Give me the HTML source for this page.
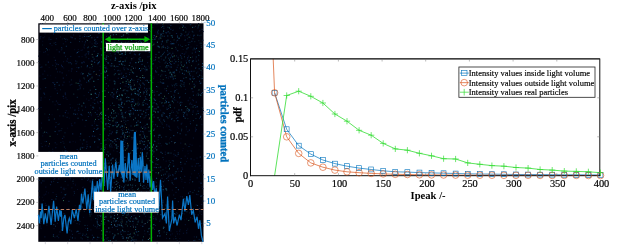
<!DOCTYPE html>
<html><head><meta charset="utf-8"><title>figure</title>
<style>html,body{margin:0;padding:0;background:#fff}svg{display:block;font-family:'Liberation Serif','DejaVu Serif',serif}</style></head>
<body><svg width="617" height="247" viewBox="0 0 617 247">
<rect width="617" height="247" fill="#fff"/>
<rect x="38.3" y="23.3" width="165.2" height="218.5" fill="#00000a"/>
<path d="M91.5 56.1h1.0M65.0 97.3h1.0M123.4 100.7h1.0M117.1 165.5h1.0M41.8 197.3h1.0M61.6 158.1h1.0M50.2 75.7h1.0M153.4 42.8h1.0M108.2 39.1h1.0M45.4 177.8h1.0M87.6 160.4h1.0M100.2 121.6h1.0M139.7 163.2h1.0M114.7 124.8h1.0M185.9 129.1h1.0M161.7 206.0h1.0M58.0 163.3h1.0M61.2 65.2h1.0M198.1 77.4h1.0M52.3 192.4h1.0M154.1 90.2h1.0M118.0 221.5h1.0M189.9 35.1h1.0M51.6 114.8h1.0M97.8 193.6h1.0M64.7 116.2h1.0M137.4 192.0h1.0M44.5 97.3h1.0M171.6 110.5h1.0M66.0 194.2h1.0M79.2 220.0h1.0M47.9 192.9h1.0M115.9 138.8h1.0M131.2 60.6h1.0M199.0 175.9h1.0M61.1 163.4h1.0M78.8 67.5h1.0M124.4 86.1h1.0M198.6 181.9h1.0M72.2 107.8h1.0M114.3 59.1h1.0M191.0 209.3h1.0M142.4 26.6h1.0M160.3 118.8h1.0M107.2 232.4h1.0M143.0 161.8h1.0M116.5 113.1h1.0M108.5 25.3h1.0M148.4 217.1h1.0M181.3 181.3h1.0M123.7 27.8h1.0M47.5 54.8h1.0M115.2 222.0h1.0M190.5 107.1h1.0M90.6 219.9h1.0M155.3 66.1h1.0M125.5 140.3h1.0M55.2 77.8h1.0M171.3 215.8h1.0M141.6 198.8h1.0M175.5 100.4h1.0M152.0 185.8h1.0M189.1 109.9h1.0M132.7 112.8h1.0M64.1 188.6h1.0M173.6 156.8h1.0M69.8 159.1h1.0M138.3 69.6h1.0M91.1 167.6h1.0M70.0 179.8h1.0M202.7 110.5h1.0M155.4 32.1h1.0M148.5 148.5h1.0M182.2 150.7h1.0M56.5 90.6h1.0M145.7 40.3h1.0M184.7 37.0h1.0M180.5 138.8h1.0M74.9 184.3h1.0M74.7 205.6h1.0M180.3 143.2h1.0M77.2 104.4h1.0M57.0 27.9h1.0M120.8 213.4h1.0M188.7 219.8h1.0M189.7 150.3h1.0M201.0 73.0h1.0M73.2 195.2h1.0M170.6 56.4h1.0M168.5 173.4h1.0M53.3 161.8h1.0M48.7 67.5h1.0M119.9 219.5h1.0M103.7 52.8h1.0M93.3 136.1h1.0M47.8 117.7h1.0M114.9 67.2h1.0M151.1 57.0h1.0M75.0 142.1h1.0M136.2 194.0h1.0M50.3 96.7h1.0M120.1 192.9h1.0M161.3 152.5h1.0M185.2 67.0h1.0M168.7 126.2h1.0M65.5 188.7h1.0M189.5 180.6h1.0M201.3 89.9h1.0M187.7 153.7h1.0M162.8 45.9h1.0M50.2 29.8h1.0M39.4 39.6h1.0M189.0 182.8h1.0M175.9 179.3h1.0M178.0 117.1h1.0M168.9 139.1h1.0M79.2 79.3h1.0M85.2 106.2h1.0M48.1 117.3h1.0M144.1 172.8h1.0M164.9 75.2h1.0M46.8 222.4h1.0M67.1 128.2h1.0M157.6 82.6h1.0M42.2 41.3h1.0M123.8 54.8h1.0M146.7 35.6h1.0M172.6 163.5h1.0M184.1 219.9h1.0M72.6 141.5h1.0M114.2 147.2h1.0M74.9 185.4h1.0M119.1 187.0h1.0M181.1 102.0h1.0M118.6 23.7h1.0M140.2 57.4h1.0M192.7 105.4h1.0M58.4 234.7h1.0M128.9 224.0h1.0M198.9 31.6h1.0M79.9 73.9h1.0M122.4 55.4h1.0" stroke="#040a22" stroke-width="1.0" fill="none"/>
<path d="M173.3 43.8h1.0M127.2 147.6h1.0M54.3 178.3h1.0M192.9 100.7h1.0M93.8 128.4h1.0M146.4 99.6h1.0M167.2 46.4h1.0M91.8 235.2h1.0M92.8 159.1h1.0M40.8 182.9h1.0M38.8 197.0h1.0M99.5 108.8h1.0M171.8 160.6h1.0M120.6 200.0h1.0M132.7 101.7h1.0M54.6 88.7h1.0M102.1 72.0h1.0M98.0 96.2h1.0M87.2 180.4h1.0M76.8 114.0h1.0M78.6 56.7h1.0M57.9 64.6h1.0M147.5 56.9h1.0M132.5 225.2h1.0M62.3 85.0h1.0M42.6 37.8h1.0M81.8 238.9h1.0M69.9 107.9h1.0M168.0 108.5h1.0M71.1 231.1h1.0M88.1 116.5h1.0M59.2 152.6h1.0M110.4 191.7h1.0M82.3 187.6h1.0M177.4 168.7h1.0M127.2 179.5h1.0M70.7 174.1h1.0M109.8 115.3h1.0M139.7 159.8h1.0M41.7 146.6h1.0M40.6 107.6h1.0M40.2 26.5h1.0M102.2 91.3h1.0M195.7 205.1h1.0M100.2 172.4h1.0M81.5 115.3h1.0M85.7 53.9h1.0M133.3 101.4h1.0M193.9 190.3h1.0M193.0 36.2h1.0M111.0 133.8h1.0M44.3 176.2h1.0M96.9 226.2h1.0M195.1 131.0h1.0M152.4 153.3h1.0M176.4 156.1h1.0M181.5 24.2h1.0M120.2 232.9h1.0M107.0 193.9h1.0M173.4 95.2h1.0M194.1 170.6h1.0M106.1 36.4h1.0M40.1 23.9h1.0M181.5 218.3h1.0M78.2 108.2h1.0M86.2 82.3h1.0M152.5 109.0h1.0M149.5 68.1h1.0M183.7 54.2h1.0M129.4 72.6h1.0M159.2 221.2h1.0M113.9 172.6h1.0M54.7 142.8h1.0M76.0 231.8h1.0M159.0 233.0h1.0M141.0 49.9h1.0M49.6 32.7h1.0M147.4 42.2h1.0M158.4 61.3h1.0M101.7 149.3h1.0M53.1 207.9h1.0M191.6 166.2h1.0M67.9 224.1h1.0M182.1 196.9h1.0M89.2 79.5h1.0M146.4 69.1h1.0M114.2 30.6h1.0M63.5 82.2h1.0M91.6 76.8h1.0M140.9 47.2h1.0M160.8 204.5h1.0M77.8 151.2h1.0M120.4 231.4h1.0M125.5 73.4h1.0M84.6 235.3h1.0M166.6 67.7h1.0M113.4 169.3h1.0M73.1 34.9h1.0M192.5 112.0h1.0M51.1 182.1h1.0M50.4 39.5h1.0M67.9 25.7h1.0M173.4 154.2h1.0M120.8 54.0h1.0M170.1 43.8h1.0M61.0 65.3h1.0M53.0 34.0h1.0M117.8 78.3h1.0M44.4 236.9h1.0M162.6 190.9h1.0M179.2 231.1h1.0M132.5 46.4h1.0M92.1 239.2h1.0M137.7 105.6h1.0M68.4 221.4h1.0M123.2 61.5h1.0M186.9 67.3h1.0M175.7 115.7h1.0M115.8 66.4h1.0M114.8 205.0h1.0M120.6 224.2h1.0" stroke="#0a1b40" stroke-width="1.0" fill="none"/>
<path d="M187.9 70.0h1.2M85.6 236.7h1.2M38.3 56.2h1.2M62.4 141.5h1.2M79.2 83.6h1.2M130.6 188.8h1.2M93.9 123.2h1.2M81.8 49.8h1.2M136.7 174.1h1.2M68.8 81.9h1.2M90.3 206.2h1.2M80.8 147.3h1.2M63.7 137.0h1.2M124.8 142.4h1.2M111.0 47.0h1.2M171.8 190.2h1.2M44.0 36.9h1.2M81.8 41.6h1.2M161.3 207.7h1.2M140.4 40.3h1.2M128.4 37.1h1.2M102.5 111.5h1.2M186.5 115.6h1.2M87.9 205.6h1.2M45.1 145.7h1.2M67.4 185.2h1.2M171.7 233.8h1.2M81.3 163.5h1.2M194.4 221.6h1.2M90.8 115.6h1.2M120.2 47.2h1.2M167.8 175.1h1.2M83.3 47.1h1.2M89.8 160.1h1.2M177.9 128.4h1.2M102.8 189.3h1.2M138.5 173.1h1.2M198.6 165.8h1.2M55.0 62.8h1.2M165.6 222.3h1.2M180.1 63.5h1.2M120.1 137.0h1.2M149.6 54.8h1.2M171.0 85.0h1.2M190.5 151.0h1.2M100.5 29.3h1.2M181.4 123.1h1.2M189.9 177.1h1.2M90.7 74.1h1.2M201.3 71.6h1.2M124.3 176.3h1.2M181.3 179.4h1.2M161.0 59.1h1.2M172.3 207.8h1.2M181.4 167.7h1.2M133.2 83.0h1.2M137.9 99.1h1.2M97.9 103.1h1.2M96.4 239.6h1.2M179.6 229.6h1.2M74.5 109.5h1.2M93.5 165.1h1.2M166.1 98.6h1.2M65.9 38.9h1.2M201.4 186.7h1.2M199.4 146.0h1.2M143.0 110.7h1.2M61.8 39.0h1.2M196.4 158.2h1.2M60.8 192.3h1.2M160.8 97.6h1.2M96.6 174.4h1.2M165.6 161.1h1.2M197.9 173.6h1.2M180.2 196.6h1.2M192.9 213.4h1.2M131.0 238.3h1.2M142.4 142.1h1.2M176.3 231.7h1.2M132.1 240.9h1.2M143.6 203.4h1.2M106.5 126.4h1.2M160.0 110.7h1.2M122.3 114.8h1.2M189.4 144.4h1.2M43.6 153.7h1.2M92.5 102.6h1.2M182.6 148.5h1.2M140.1 86.9h1.2M58.1 172.0h1.2M47.7 205.0h1.2M134.9 148.9h1.2M64.9 148.5h1.2M125.3 86.1h1.2M183.9 213.9h1.2M144.3 233.9h1.2M97.4 147.2h1.2M42.1 135.9h1.2M44.8 203.4h1.2M75.5 212.2h1.2M69.7 157.3h1.2M152.0 115.0h1.2M166.1 125.9h1.2M42.8 200.3h1.2M169.8 216.9h1.2M81.5 56.7h1.2M200.0 156.7h1.2M144.8 70.8h1.2M189.7 121.3h1.2M40.9 123.1h1.2M97.5 128.7h1.2M198.6 187.8h1.2M67.5 113.2h1.2M148.8 197.4h1.2M82.0 37.1h1.2M90.2 180.3h1.2M48.7 172.2h1.2M85.0 228.5h1.2M126.9 96.5h1.2M97.6 37.2h1.2M57.3 218.7h1.2M111.5 158.8h1.2M128.3 215.8h1.2M168.5 194.9h1.2M52.6 192.5h1.2M183.4 199.5h1.2" stroke="#040a22" stroke-width="1.2" fill="none"/>
<path d="M107.0 75.7h1.2M140.1 131.4h1.2M44.7 168.8h1.2M84.6 55.0h1.2M113.4 212.9h1.2M123.2 68.0h1.2M201.6 29.3h1.2M170.9 55.1h1.2M91.9 136.1h1.2M152.2 121.8h1.2M121.8 77.2h1.2M62.9 223.4h1.2M98.2 94.9h1.2M146.4 179.2h1.2M173.9 179.0h1.2M85.9 39.9h1.2M133.9 54.2h1.2M194.9 52.2h1.2M79.3 81.1h1.2M146.1 88.8h1.2M38.3 108.5h1.2M70.3 37.0h1.2M145.1 128.2h1.2M57.7 153.8h1.2M102.3 103.3h1.2M173.1 78.5h1.2M136.1 149.2h1.2M61.7 66.7h1.2M100.7 208.8h1.2M110.2 181.1h1.2M159.4 37.6h1.2M135.7 231.7h1.2M114.5 54.2h1.2M123.7 45.3h1.2M143.4 203.8h1.2M64.7 93.1h1.2M93.2 237.6h1.2M167.2 32.0h1.2M168.0 221.4h1.2M86.4 36.5h1.2M83.3 208.6h1.2M95.3 41.8h1.2M175.9 33.5h1.2M149.6 88.3h1.2M190.8 71.3h1.2M78.9 28.8h1.2M111.1 195.2h1.2M71.6 37.6h1.2M176.6 222.8h1.2M41.2 153.8h1.2M58.5 130.8h1.2M179.9 55.3h1.2M180.6 158.5h1.2M144.8 49.5h1.2M69.3 142.1h1.2M189.6 191.7h1.2M110.7 159.3h1.2M54.8 60.4h1.2M130.6 48.3h1.2M127.9 194.7h1.2M193.2 240.5h1.2M130.7 102.0h1.2M118.8 64.5h1.2M93.1 200.8h1.2M195.6 129.6h1.2M167.3 204.1h1.2M77.7 32.3h1.2M43.6 156.3h1.2M115.4 141.5h1.2M138.4 88.0h1.2M146.9 104.3h1.2M58.5 104.5h1.2M157.0 32.8h1.2M169.9 63.6h1.2M68.3 201.4h1.2M51.3 199.5h1.2M165.9 90.6h1.2M130.2 102.0h1.2M129.6 62.9h1.2M187.7 34.1h1.2M96.7 37.3h1.2M98.3 167.6h1.2M41.2 67.0h1.2M47.8 62.1h1.2M199.0 208.7h1.2M162.6 105.9h1.2M39.7 38.0h1.2M71.3 68.9h1.2M60.8 214.9h1.2M109.9 202.9h1.2M200.2 183.2h1.2M190.5 158.9h1.2M112.2 25.9h1.2M155.4 54.5h1.2M155.4 191.3h1.2M75.0 61.0h1.2M134.5 110.4h1.2M197.6 215.0h1.2M96.5 114.3h1.2M130.0 159.9h1.2M61.0 47.5h1.2M179.4 97.0h1.2M165.8 32.9h1.2M61.9 138.5h1.2M154.4 167.3h1.2M157.1 164.5h1.2M187.1 57.7h1.2M111.7 132.1h1.2M50.8 218.7h1.2M52.9 234.7h1.2M70.9 26.6h1.2M62.7 96.3h1.2M43.3 93.1h1.2M153.4 92.1h1.2M188.8 130.2h1.2M170.2 29.3h1.2M172.1 174.7h1.2M108.9 43.4h1.2M64.8 112.6h1.2M124.0 27.6h1.2M62.8 189.0h1.2M72.1 133.9h1.2" stroke="#0a1b40" stroke-width="1.2" fill="none"/>
<path d="M48.0 146.4h1.0M133.2 109.7h1.0M87.6 196.2h1.0M63.1 61.7h1.0M138.6 92.7h1.0M117.3 91.2h1.0M142.9 156.8h1.0M172.8 184.4h1.0M104.3 229.4h1.0M109.6 213.1h1.0M80.9 114.5h1.0M174.3 214.5h1.0M138.3 192.2h1.0M56.9 223.3h1.0M170.1 41.5h1.0M197.8 90.3h1.0M201.0 237.1h1.0M116.3 132.8h1.0M85.0 158.0h1.0M158.9 200.1h1.0M174.2 150.5h1.0M171.3 207.5h1.0M201.7 107.5h1.0M46.4 225.1h1.0M194.8 131.2h1.0M159.6 66.7h1.0M91.9 109.5h1.0M202.7 31.6h1.0M133.3 102.7h1.0M187.0 158.3h1.0M101.4 50.1h1.0M195.6 222.7h1.0M158.8 185.9h1.0M185.5 52.0h1.0M140.9 126.7h1.0M125.7 111.7h1.0M160.2 121.8h1.0M86.9 225.4h1.0M154.1 140.4h1.0M133.3 57.9h1.0M59.0 123.9h1.0M44.6 141.6h1.0M105.8 229.7h1.0M115.4 145.7h1.0M153.4 77.0h1.0M122.2 128.8h1.0M69.9 178.6h1.0M144.3 69.5h1.0M190.0 103.0h1.0M116.7 151.6h1.0M80.1 31.5h1.0M66.0 75.2h1.0M109.3 80.2h1.0M54.3 86.3h1.0M175.1 236.3h1.0M83.8 62.6h1.0M197.3 72.0h1.0M56.4 49.8h1.0M71.3 169.0h1.0M86.9 191.4h1.0M109.9 105.4h1.0M124.5 201.0h1.0M150.8 149.3h1.0M47.3 75.2h1.0M168.6 76.3h1.0M115.1 196.4h1.0M102.4 42.0h1.0M159.7 143.5h1.0M176.3 111.7h1.0M68.8 162.2h1.0M81.2 72.8h1.0M187.7 42.4h1.0M131.8 138.3h1.0M168.5 195.9h1.0M163.0 159.7h1.0M180.4 164.4h1.0M138.5 197.5h1.0M53.7 57.3h1.0M159.6 219.9h1.0M193.6 159.8h1.0M87.4 239.8h1.0M199.4 30.5h1.0M124.7 23.9h1.0M197.8 209.0h1.0M152.3 182.2h1.0M105.0 181.7h1.0M126.2 57.9h1.0M62.8 43.8h1.0M104.7 67.6h1.0M157.7 139.7h1.0M151.6 73.2h1.0M52.2 149.2h1.0M43.6 195.0h1.0M63.2 98.3h1.0M44.1 94.1h1.0M195.0 217.4h1.0M148.4 219.6h1.0M63.2 169.5h1.0M169.0 127.0h1.0M118.0 162.5h1.0M152.1 126.0h1.0M131.4 185.5h1.0M78.2 221.0h1.0M44.6 33.9h1.0M149.7 42.4h1.0M83.9 25.4h1.0M145.5 147.3h1.0M124.3 47.6h1.0M104.8 128.9h1.0M108.3 36.5h1.0M179.2 103.4h1.0M192.7 110.8h1.0M79.9 147.4h1.0M186.9 38.7h1.0M175.9 42.0h1.0M66.8 61.3h1.0M43.5 221.4h1.0M102.9 67.2h1.0M100.9 206.1h1.0M117.9 114.0h1.0M191.6 145.2h1.0M105.4 180.4h1.0M72.8 183.7h1.0M107.7 160.4h1.0M58.7 28.0h1.0M120.0 173.2h1.0" stroke="#07122f" stroke-width="1.0" fill="none"/>
<path d="M129.8 52.3h1.0M159.7 109.9h1.0M200.5 171.9h1.0M161.5 184.5h1.0M51.5 45.5h1.0M124.4 27.4h1.0M61.8 215.5h1.0M161.1 43.8h1.0M201.7 111.2h1.0M125.6 68.1h1.0M122.8 76.8h1.0M96.9 23.5h1.0M62.0 151.0h1.0M164.0 180.2h1.0M89.5 42.0h1.0M69.5 104.6h1.0M141.3 138.3h1.0M120.2 170.1h1.0M68.8 227.0h1.0M159.5 126.6h1.0M172.3 52.2h1.0M102.7 58.1h1.0M120.2 177.8h1.0M145.1 45.2h1.0M200.8 168.7h1.0M40.7 143.4h1.0M190.5 47.0h1.0M90.0 155.6h1.0M68.4 70.8h1.0M77.0 189.5h1.0M97.2 102.8h1.0M47.2 133.0h1.0M91.5 156.9h1.0M80.1 233.2h1.0M99.5 66.6h1.0M142.9 101.6h1.0M97.5 189.8h1.0M87.7 33.9h1.0M100.0 118.4h1.0M182.9 187.8h1.0M139.9 30.0h1.0M132.8 85.8h1.0M96.8 110.7h1.0M196.5 45.4h1.0M166.2 107.9h1.0M95.3 56.5h1.0M119.4 36.0h1.0M39.3 64.7h1.0M73.2 168.5h1.0M132.9 223.3h1.0M74.2 49.7h1.0M83.6 147.2h1.0M137.1 90.5h1.0M138.1 170.8h1.0M180.7 104.2h1.0M201.1 211.8h1.0M81.3 192.9h1.0M184.4 53.7h1.0M159.3 62.5h1.0M93.3 59.8h1.0M68.8 118.1h1.0M93.4 206.6h1.0M40.8 221.5h1.0M107.5 109.7h1.0M79.5 136.6h1.0M195.9 67.8h1.0M54.6 104.8h1.0M173.2 238.9h1.0M107.1 78.2h1.0M106.3 110.1h1.0M121.3 72.8h1.0M127.5 82.2h1.0M96.8 207.1h1.0M185.8 28.8h1.0M191.2 173.9h1.0M60.7 177.2h1.0M154.3 24.6h1.0M151.8 26.0h1.0M125.6 78.1h1.0M178.3 171.2h1.0M197.4 65.0h1.0M93.2 27.8h1.0M160.1 79.4h1.0M60.0 25.3h1.0M79.7 80.4h1.0M150.5 153.4h1.0M45.9 191.8h1.0M161.8 124.4h1.0M121.3 73.7h1.0M182.7 49.5h1.0M107.7 140.9h1.0M101.9 107.2h1.0M149.1 56.5h1.0M101.0 204.5h1.0M105.7 176.3h1.0M39.3 51.7h1.0M129.4 190.8h1.0M180.2 143.1h1.0M86.1 99.0h1.0M66.6 99.5h1.0M171.3 180.8h1.0M40.8 228.7h1.0M94.5 199.8h1.0M202.3 195.6h1.0M170.4 130.5h1.0M168.7 24.3h1.0M69.1 217.0h1.0M179.1 234.1h1.0M195.8 102.1h1.0M83.1 217.3h1.0M140.3 225.3h1.0M94.0 37.7h1.0M83.5 36.2h1.0M125.2 78.0h1.0M64.8 218.4h1.0M78.3 220.5h1.0M113.3 150.8h1.0M132.0 179.9h1.0M55.7 194.6h1.0M42.3 203.9h1.0M123.8 122.5h1.0M91.6 43.9h1.0M83.4 77.7h1.0M48.9 49.8h1.0M91.4 68.2h1.0M84.6 126.2h1.0M56.4 144.2h1.0M160.7 145.8h1.0M74.0 31.1h1.0M99.7 209.1h1.0M140.4 70.4h1.0M77.8 49.5h1.0M195.6 81.8h1.0M153.6 35.7h1.0M69.7 177.4h1.0M73.1 179.6h1.0M97.9 217.3h1.0M99.1 157.2h1.0M98.6 228.4h1.0M100.9 177.8h1.0M142.0 198.2h1.0M107.4 135.0h1.0M185.9 145.1h1.0M93.5 176.8h1.0M83.6 95.7h1.0M158.0 112.3h1.0M179.4 238.6h1.0M187.4 151.0h1.0" stroke="#050d27" stroke-width="1.0" fill="none"/>
<path d="M55.2 147.7h1.2M40.3 204.2h1.2M48.5 38.0h1.2M139.2 38.6h1.2M187.6 100.7h1.2M168.2 126.1h1.2M187.9 193.6h1.2M79.7 87.1h1.2M190.0 217.7h1.2M148.4 194.0h1.2M201.0 204.5h1.2M52.1 82.5h1.2M94.6 204.5h1.2M184.1 176.4h1.2M94.5 43.1h1.2M101.2 185.7h1.2M195.9 163.6h1.2M106.6 177.8h1.2M52.7 176.8h1.2M55.1 126.7h1.2M191.2 104.3h1.2M140.4 157.1h1.2M145.0 90.4h1.2M135.6 157.4h1.2M55.8 101.1h1.2M134.2 151.5h1.2M192.3 76.3h1.2M176.7 67.4h1.2M56.7 158.7h1.2M116.7 52.2h1.2M95.5 44.1h1.2M100.7 215.7h1.2M95.6 94.4h1.2M147.1 184.8h1.2M64.8 94.7h1.2M103.9 195.5h1.2M78.1 110.4h1.2M123.5 167.2h1.2M192.8 138.0h1.2M202.1 188.7h1.2M151.3 237.3h1.2M174.4 220.5h1.2M133.4 209.3h1.2M81.8 74.3h1.2M73.4 113.8h1.2M166.3 143.9h1.2M169.4 66.9h1.2M112.7 97.3h1.2M199.2 35.7h1.2M175.6 49.2h1.2M72.2 156.6h1.2M181.7 81.3h1.2M54.2 175.5h1.2M52.2 151.8h1.2M40.3 100.1h1.2M200.9 170.8h1.2M93.7 100.0h1.2M167.3 177.6h1.2M64.5 151.1h1.2M174.1 99.8h1.2M69.7 85.0h1.2M78.1 51.6h1.2M134.9 103.4h1.2M109.1 188.1h1.2M67.0 58.9h1.2M163.3 60.1h1.2M61.6 72.8h1.2M108.7 139.7h1.2M194.9 128.0h1.2M113.9 49.5h1.2M189.1 212.9h1.2M43.9 221.5h1.2M181.9 169.1h1.2M40.6 97.8h1.2M135.2 32.8h1.2M142.0 181.6h1.2M121.1 218.0h1.2M74.2 110.3h1.2M143.5 224.2h1.2M118.1 217.3h1.2M133.5 215.5h1.2M185.9 161.5h1.2M135.7 239.9h1.2M141.7 141.5h1.2M55.0 42.5h1.2M202.4 201.1h1.2M88.4 52.0h1.2M98.4 197.8h1.2M63.3 197.3h1.2M198.5 94.6h1.2M71.4 125.7h1.2M161.1 47.9h1.2M50.8 181.7h1.2M121.6 103.2h1.2M73.6 191.6h1.2M105.8 88.5h1.2M195.7 102.2h1.2M38.4 61.5h1.2M111.9 186.8h1.2M120.9 208.8h1.2M74.2 122.9h1.2M110.4 66.3h1.2M165.3 98.0h1.2M96.5 166.2h1.2M54.4 214.4h1.2M104.1 169.8h1.2M58.4 164.8h1.2M38.6 191.1h1.2M109.2 49.1h1.2M88.1 112.3h1.2M147.0 62.6h1.2M49.0 26.5h1.2M98.1 180.6h1.2M82.0 119.9h1.2M129.5 38.9h1.2M165.3 168.0h1.2M130.7 178.2h1.2M188.0 240.7h1.2M184.0 35.7h1.2M186.1 232.8h1.2M116.4 170.9h1.2M195.9 194.3h1.2M104.2 52.5h1.2M59.3 71.8h1.2M142.6 176.8h1.2M56.0 161.3h1.2M43.4 181.0h1.2M63.2 226.1h1.2M115.6 123.8h1.2M121.3 219.5h1.2M161.5 178.3h1.2M90.9 60.7h1.2M88.1 58.6h1.2M128.6 110.9h1.2M114.5 46.6h1.2M177.1 102.1h1.2" stroke="#07122f" stroke-width="1.2" fill="none"/>
<path d="M166.1 124.7h1.2M65.4 97.8h1.2M94.2 99.5h1.2M103.7 109.1h1.2M116.3 48.4h1.2M170.0 234.8h1.2M187.9 100.3h1.2M60.8 49.8h1.2M146.5 164.8h1.2M65.1 41.7h1.2M141.3 171.5h1.2M146.7 37.7h1.2M76.2 164.8h1.2M38.9 130.3h1.2M156.6 34.1h1.2M112.8 95.8h1.2M82.7 187.0h1.2M53.5 218.5h1.2M59.2 115.9h1.2M40.0 88.9h1.2M119.3 174.8h1.2M42.3 74.2h1.2M67.7 24.1h1.2M70.1 237.0h1.2M79.7 139.9h1.2M86.1 159.5h1.2M82.0 143.9h1.2M164.8 154.4h1.2M39.2 76.0h1.2M150.0 163.0h1.2M143.1 78.3h1.2M48.4 39.7h1.2M96.4 162.4h1.2M78.6 89.0h1.2M174.2 87.1h1.2M86.5 144.7h1.2M90.3 229.8h1.2M195.1 59.0h1.2M78.8 224.2h1.2M80.6 50.3h1.2M110.5 55.8h1.2M104.2 205.9h1.2M184.9 89.4h1.2M173.3 136.0h1.2M100.7 121.8h1.2M157.2 87.1h1.2M144.9 24.8h1.2M42.5 79.2h1.2M123.4 135.9h1.2M182.9 233.3h1.2M148.1 66.1h1.2M39.3 212.0h1.2M98.8 70.4h1.2M85.7 201.1h1.2M84.5 42.9h1.2M187.1 229.0h1.2M97.5 75.6h1.2M176.9 233.9h1.2M157.9 95.4h1.2M63.1 68.0h1.2M88.3 100.3h1.2M92.0 186.4h1.2M165.9 238.3h1.2M96.0 177.8h1.2M73.3 221.9h1.2M146.8 26.7h1.2M48.2 146.1h1.2M76.3 67.5h1.2M106.4 163.1h1.2M40.0 173.1h1.2M198.0 23.5h1.2M112.7 42.5h1.2M202.2 174.6h1.2M140.7 137.2h1.2M189.6 179.5h1.2M45.2 187.2h1.2M135.8 124.0h1.2M88.4 212.0h1.2M44.1 71.1h1.2M114.7 181.8h1.2M106.2 174.9h1.2M176.8 213.4h1.2M176.6 240.6h1.2M40.1 228.0h1.2M194.6 214.5h1.2M128.0 41.4h1.2M184.6 156.1h1.2M50.8 159.1h1.2M86.2 141.8h1.2M145.0 198.5h1.2M63.3 188.1h1.2M186.0 219.0h1.2M59.9 176.6h1.2M143.8 148.6h1.2M193.7 236.8h1.2M199.6 165.7h1.2M146.2 153.5h1.2M200.9 214.5h1.2M54.3 237.2h1.2M144.9 216.3h1.2M55.0 127.2h1.2M167.4 52.0h1.2M58.0 237.6h1.2M138.2 79.4h1.2M65.8 150.8h1.2M159.2 101.6h1.2M56.9 134.3h1.2M144.6 125.5h1.2M133.2 100.7h1.2M90.9 114.2h1.2M161.8 205.9h1.2M140.6 202.9h1.2M59.9 36.8h1.2M55.8 38.6h1.2M112.2 208.8h1.2M66.1 61.1h1.2M53.4 228.6h1.2M87.9 157.8h1.2M168.8 206.7h1.2M70.9 123.9h1.2M121.2 63.3h1.2M164.7 152.2h1.2M45.1 194.1h1.2M122.0 178.4h1.2M141.3 170.9h1.2M89.4 71.0h1.2M109.7 65.3h1.2M199.2 117.9h1.2M64.3 210.0h1.2M83.8 48.0h1.2M145.0 44.5h1.2" stroke="#050d27" stroke-width="1.2" fill="none"/>
<path d="M132.7 137.6h1.2M49.6 43.7h1.2M152.9 37.5h1.2M173.0 211.4h1.2M62.7 78.2h1.2M199.2 211.2h1.2M111.8 227.3h1.2M162.5 201.8h1.2M81.4 62.7h1.2M49.9 184.6h1.2M152.1 170.4h1.2M87.9 53.9h1.2M155.5 219.6h1.2M139.4 53.5h1.2M115.9 98.1h1.2M159.8 235.8h1.2M89.6 181.2h1.2M100.8 190.7h1.2M127.3 120.5h1.2M81.4 179.3h1.2M195.1 107.4h1.2M138.1 94.7h1.2M86.6 146.7h1.2M145.7 109.9h1.2M89.7 146.6h1.2M143.0 83.9h1.2M42.0 23.9h1.2M54.1 162.2h1.2M80.5 84.8h1.2M110.1 191.6h1.2M157.2 235.5h1.2M200.0 196.3h1.2M133.7 47.1h1.2M96.6 208.5h1.2M38.7 180.4h1.2M147.7 206.3h1.2M53.8 166.8h1.2M181.6 53.5h1.2M101.7 194.5h1.2M76.6 149.5h1.2M69.9 62.6h1.2M64.0 153.3h1.2M162.9 46.2h1.2M58.2 178.9h1.2M103.3 228.2h1.2M56.2 64.1h1.2M194.6 85.9h1.2M58.7 51.9h1.2M145.2 67.1h1.2M114.6 32.2h1.2M122.6 47.4h1.2M97.2 63.9h1.2M141.8 149.7h1.2M192.3 61.7h1.2M132.0 179.3h1.2M79.3 36.2h1.2M91.6 125.3h1.2M39.7 223.5h1.2M165.6 206.1h1.2M100.7 164.2h1.2M76.1 53.0h1.2M126.8 173.4h1.2M192.4 91.7h1.2M101.5 37.1h1.2M150.3 89.5h1.2M122.0 161.6h1.2M93.3 176.6h1.2M134.8 54.6h1.2M83.2 61.9h1.2M105.4 144.5h1.2M128.5 173.6h1.2M150.9 119.6h1.2M81.4 206.4h1.2M189.0 78.9h1.2M59.4 231.9h1.2M47.3 171.5h1.2M89.8 78.8h1.2M106.5 166.7h1.2M71.0 159.4h1.2M147.4 109.3h1.2M105.1 42.3h1.2M173.6 63.4h1.2M60.5 187.3h1.2M196.6 177.8h1.2M150.3 102.1h1.2M162.0 83.3h1.2M103.2 228.0h1.2M75.2 160.3h1.2M53.1 82.9h1.2M94.3 141.7h1.2M174.0 91.6h1.2M139.3 59.5h1.2M55.8 68.8h1.2M60.0 212.3h1.2M186.6 67.8h1.2M174.3 179.2h1.2M146.4 208.9h1.2M75.5 63.6h1.2M177.8 201.6h1.2M162.4 200.3h1.2M170.2 231.0h1.2M90.7 98.4h1.2M120.5 74.0h1.2M197.3 111.1h1.2M170.9 119.3h1.2M143.4 127.1h1.2M110.5 28.3h1.2M90.6 188.2h1.2M73.6 165.7h1.2" stroke="#091838" stroke-width="1.2" fill="none"/>
<path d="M85.1 107.3h1.0M119.5 70.8h1.0M65.7 110.7h1.0M184.5 117.8h1.0M96.9 43.4h1.0M201.8 114.2h1.0M82.8 198.3h1.0M78.5 233.5h1.0M121.3 24.4h1.0M43.4 52.3h1.0M177.3 40.0h1.0M92.8 165.1h1.0M40.3 36.5h1.0M97.6 116.5h1.0M84.4 34.5h1.0M144.5 117.3h1.0M76.5 223.6h1.0M80.6 168.6h1.0M150.5 66.4h1.0M72.0 234.4h1.0M76.2 71.5h1.0M112.2 178.3h1.0M202.3 226.1h1.0M39.7 226.0h1.0M188.6 32.1h1.0M143.1 177.8h1.0M172.9 112.3h1.0M106.8 211.4h1.0M45.0 51.7h1.0M49.1 99.7h1.0M172.0 61.3h1.0M184.8 224.7h1.0M183.0 26.6h1.0M107.7 163.9h1.0M108.7 162.0h1.0M194.8 166.1h1.0M138.5 171.9h1.0M128.0 34.1h1.0M113.9 42.4h1.0M68.3 208.3h1.0M57.3 103.0h1.0M184.5 182.4h1.0M133.0 218.8h1.0M123.4 231.8h1.0M172.9 30.0h1.0M129.8 130.3h1.0M111.3 63.4h1.0M96.5 60.2h1.0M44.0 167.9h1.0M146.4 146.9h1.0M175.5 192.3h1.0M150.3 31.4h1.0M106.0 67.1h1.0M192.2 99.8h1.0M45.4 218.3h1.0M120.4 57.6h1.0M117.1 70.8h1.0M186.9 59.1h1.0M111.2 145.9h1.0M97.6 138.3h1.0M111.5 147.1h1.0M157.8 143.3h1.0M90.8 61.4h1.0M156.5 24.4h1.0M139.2 180.9h1.0M97.1 102.0h1.0M146.4 154.3h1.0M146.0 191.8h1.0M116.8 226.6h1.0M173.6 84.8h1.0M109.8 53.7h1.0M188.2 56.1h1.0M158.1 33.8h1.0M139.0 170.7h1.0M124.4 138.1h1.0M144.9 199.8h1.0M200.8 83.1h1.0M120.2 170.0h1.0M45.2 205.3h1.0M149.9 48.2h1.0M71.3 84.3h1.0M70.3 56.4h1.0M66.2 228.3h1.0M70.9 71.1h1.0M53.5 179.5h1.0M80.9 174.3h1.0M197.5 194.7h1.0M131.2 166.4h1.0M187.4 131.7h1.0M66.8 151.6h1.0M88.9 136.6h1.0M134.8 234.8h1.0M143.0 192.8h1.0M96.4 227.9h1.0M175.5 178.3h1.0M102.8 198.7h1.0M104.7 148.2h1.0M138.2 220.1h1.0M108.0 37.0h1.0M196.3 95.0h1.0M71.4 187.8h1.0M62.6 155.3h1.0M140.0 87.2h1.0M79.8 88.7h1.0M151.9 68.8h1.0M167.8 78.1h1.0M77.9 217.7h1.0M46.6 167.8h1.0M124.0 134.4h1.0M54.4 84.4h1.0M62.1 198.3h1.0M176.3 89.6h1.0M89.2 194.1h1.0M107.4 138.5h1.0M68.1 174.0h1.0M106.0 231.5h1.0M103.1 48.8h1.0M164.3 88.8h1.0M93.0 225.2h1.0M86.8 26.9h1.0M120.7 136.9h1.0M151.0 127.0h1.0M126.3 193.1h1.0M55.6 122.5h1.0M89.8 182.1h1.0M132.8 25.6h1.0M186.2 230.6h1.0M185.6 60.9h1.0M173.2 195.0h1.0M137.3 79.7h1.0M53.5 24.5h1.0M161.3 74.9h1.0M52.3 65.3h1.0M135.3 170.7h1.0M101.9 155.9h1.0M99.2 107.7h1.0M148.9 234.4h1.0M65.5 217.7h1.0M90.3 105.3h1.0" stroke="#091838" stroke-width="1.0" fill="none"/>
<path d="M164.7 174.1h1.0M65.0 216.2h1.0M58.7 85.2h1.0M97.5 155.0h1.0M55.0 226.2h1.0M105.4 140.0h1.0M200.0 117.4h1.0M170.5 73.2h1.0M109.4 133.8h1.0M122.2 130.8h1.0M100.2 216.5h1.0M53.9 119.0h1.0M110.2 23.7h1.0M192.8 60.7h1.0M115.6 51.8h1.0M110.7 189.4h1.0M134.9 180.3h1.0M94.3 103.6h1.0M175.3 214.7h1.0M156.2 72.0h1.0M154.7 148.1h1.0M44.6 78.6h1.0" stroke="#0f3555" stroke-width="1.0" fill="none"/>
<path d="M144.0 92.5h0.8M172.3 30.5h0.8M134.0 233.8h0.8M136.4 175.2h0.8M190.9 151.1h0.8M147.0 43.2h0.8M44.5 114.0h0.8M48.7 151.6h0.8M55.1 66.2h0.8M186.6 48.6h0.8M149.4 131.5h0.8M162.1 102.5h0.8M40.9 217.1h0.8M153.3 124.3h0.8M64.0 189.7h0.8M172.3 118.4h0.8M199.5 213.0h0.8M92.4 46.8h0.8M83.4 203.5h0.8M147.0 145.1h0.8M150.9 219.1h0.8M139.6 161.9h0.8M63.4 136.3h0.8M88.1 81.5h0.8M194.3 71.2h0.8M42.3 45.0h0.8M141.7 151.0h0.8M67.0 39.8h0.8M41.2 128.0h0.8M91.4 155.4h0.8M148.2 23.9h0.8" stroke="#0a2b3c" stroke-width="0.8" fill="none"/>
<path d="M45.9 205.3h0.8M179.3 72.0h0.8M97.3 219.2h0.8M190.5 24.6h0.8M70.9 79.9h0.8M94.0 40.5h0.8M93.4 81.3h0.8M134.1 180.7h0.8M152.6 103.1h0.8M89.5 67.7h0.8M108.0 56.5h0.8M115.8 191.4h0.8M89.5 114.0h0.8M145.8 115.3h0.8M53.7 43.1h0.8M85.0 41.7h0.8M98.5 237.6h0.8M92.3 207.3h0.8M106.9 231.6h0.8M146.6 212.6h0.8M148.8 185.0h0.8M180.1 67.5h0.8M201.0 119.1h0.8M192.7 71.3h0.8M74.1 193.3h0.8M79.1 41.6h0.8M143.9 166.3h0.8M42.4 180.9h0.8M127.6 166.2h0.8M116.4 91.3h0.8M196.2 73.0h0.8M114.2 188.7h0.8M60.6 130.6h0.8M57.3 153.7h0.8M43.4 164.4h0.8" stroke="#0f3555" stroke-width="0.8" fill="none"/>
<path d="M137.3 211.6h1.0M143.0 105.3h1.0M144.4 188.3h1.0M93.6 59.0h1.0M150.4 185.4h1.0M117.4 138.7h1.0M104.9 59.8h1.0M196.1 237.0h1.0M89.9 29.5h1.0M123.9 186.2h1.0M117.6 182.5h1.0M56.1 196.5h1.0M122.1 49.9h1.0M104.4 58.6h1.0M97.6 79.5h1.0M140.9 49.6h1.0M171.6 182.7h1.0M139.0 211.0h1.0M100.3 149.3h1.0M64.8 151.0h1.0M55.4 199.0h1.0M189.2 71.9h1.0M101.3 118.1h1.0M136.1 153.6h1.0M51.4 211.2h1.0M80.9 157.4h1.0M63.9 147.0h1.0" stroke="#0c2f4c" stroke-width="1.0" fill="none"/>
<path d="M52.6 208.6h0.8M107.4 68.9h0.8M149.2 106.9h0.8M108.6 212.9h0.8M65.0 56.3h0.8M108.9 127.0h0.8M200.7 75.3h0.8M85.1 31.9h0.8M153.6 167.4h0.8M153.0 149.2h0.8M56.9 93.4h0.8M199.1 118.6h0.8M146.6 80.0h0.8M155.5 100.0h0.8M141.0 64.3h0.8M114.2 69.6h0.8M65.4 222.9h0.8M156.1 182.8h0.8M173.5 165.4h0.8M60.0 104.4h0.8M148.7 88.8h0.8M60.2 89.8h0.8M144.5 129.1h0.8M63.5 143.2h0.8M176.2 212.8h0.8M57.1 71.9h0.8M201.9 134.0h0.8M123.6 144.4h0.8M98.2 197.1h0.8M42.8 133.0h0.8M129.2 154.9h0.8M134.6 91.4h0.8M180.2 45.2h0.8M201.5 124.7h0.8M110.7 160.7h0.8M132.6 30.2h0.8M151.5 61.5h0.8M74.7 238.1h0.8M154.2 229.5h0.8M91.0 214.1h0.8" stroke="#0a2545" stroke-width="0.8" fill="none"/>
<path d="M114.7 125.4h1.0M82.1 235.5h1.0M89.8 147.1h1.0M198.7 239.4h1.0M66.6 117.3h1.0M201.2 223.6h1.0M63.5 213.6h1.0M127.7 87.1h1.0M152.3 82.7h1.0M92.8 208.7h1.0M201.9 238.5h1.0M102.4 105.9h1.0M128.4 107.6h1.0M163.0 186.1h1.0M122.1 132.4h1.0M96.4 200.2h1.0M153.5 60.3h1.0M184.5 163.9h1.0M81.5 63.0h1.0M202.0 68.8h1.0M93.7 51.2h1.0M57.3 182.5h1.0M130.5 113.9h1.0M155.1 37.0h1.0M87.9 179.1h1.0M85.9 148.4h1.0M143.3 134.1h1.0M114.3 178.6h1.0M78.8 85.7h1.0M106.3 208.3h1.0M55.3 44.6h1.0M96.1 125.3h1.0M141.6 154.6h1.0M188.5 146.5h1.0" stroke="#0a2545" stroke-width="1.0" fill="none"/>
<path d="M94.7 226.4h0.8M117.3 225.7h0.8M123.0 167.5h0.8M150.8 225.0h0.8M40.4 67.4h0.8M157.9 74.7h0.8M122.5 227.2h0.8M201.0 183.3h0.8M120.9 129.6h0.8M61.5 128.6h0.8M53.3 181.4h0.8M171.1 43.3h0.8M140.2 166.9h0.8M107.1 167.9h0.8M52.5 101.8h0.8M85.7 57.1h0.8M57.1 93.2h0.8M86.6 66.9h0.8M123.1 237.0h0.8M127.3 38.0h0.8M80.8 163.6h0.8M83.3 88.8h0.8M82.3 207.4h0.8M115.9 133.6h0.8M177.7 57.3h0.8M40.5 159.8h0.8M155.5 181.9h0.8M145.4 80.5h0.8M192.6 218.7h0.8M60.5 142.5h0.8M177.2 169.0h0.8M93.6 45.6h0.8M82.0 110.2h0.8M160.4 170.8h0.8M168.7 160.8h0.8" stroke="#0c2f4c" stroke-width="0.8" fill="none"/>
<path d="M74.7 220.6h1.0M64.7 172.2h1.0M115.5 226.5h1.0M54.6 131.6h1.0M201.7 239.6h1.0M165.5 205.0h1.0M202.1 92.6h1.0M123.4 77.5h1.0M97.6 30.3h1.0M56.6 82.4h1.0M100.3 31.6h1.0M75.8 159.3h1.0M177.7 154.3h1.0M53.3 224.7h1.0M162.7 112.9h1.0M75.1 114.3h1.0M149.6 150.6h1.0M147.4 195.2h1.0M113.3 94.1h1.0M150.9 65.9h1.0M104.4 147.3h1.0M69.2 230.0h1.0M171.9 56.9h1.0M189.9 200.2h1.0M197.1 205.5h1.0M137.9 115.0h1.0M88.8 74.4h1.0M158.8 205.6h1.0" stroke="#123a60" stroke-width="1.0" fill="none"/>
<path d="M197.9 191.2h1.0M73.2 113.9h1.0M65.9 169.1h1.0M148.4 131.2h1.0M125.7 83.3h1.0M180.0 177.7h1.0M155.4 218.2h1.0M82.6 192.3h1.0M200.6 35.1h1.0M179.9 68.9h1.0M104.3 58.1h1.0M83.7 161.7h1.0M90.5 163.6h1.0M57.7 124.3h1.0M197.6 93.3h1.0M85.9 234.2h1.0M156.6 104.7h1.0M146.9 46.0h1.0M45.4 64.9h1.0M192.4 192.6h1.0M194.4 240.3h1.0M77.4 89.7h1.0M176.8 209.0h1.0M133.7 26.0h1.0M105.6 232.0h1.0" stroke="#0a2b3c" stroke-width="1.0" fill="none"/>
<path d="M197.6 76.5h0.8M95.8 177.9h0.8M174.7 217.6h0.8M64.8 181.4h0.8M64.6 132.8h0.8M130.4 113.1h0.8M63.9 38.6h0.8M197.7 163.5h0.8M99.7 134.4h0.8M44.3 94.1h0.8M138.9 30.5h0.8M174.8 173.2h0.8M168.7 53.3h0.8M83.9 45.0h0.8M101.1 180.1h0.8M45.4 87.6h0.8M193.4 79.3h0.8M150.6 39.9h0.8M46.1 132.4h0.8M103.3 163.8h0.8M158.6 197.5h0.8M113.9 143.5h0.8M140.8 127.4h0.8" stroke="#123a60" stroke-width="0.8" fill="none"/>
<path d="M139.3 54.2h0.7M121.7 54.5h0.7M152.5 27.7h0.7M64.9 39.3h0.7M142.4 102.9h0.7" stroke="#17506c" stroke-width="0.7" fill="none"/>
<path d="M110.5 216.2h0.7M184.2 56.8h0.7M186.7 35.1h0.7M49.3 114.4h0.7M73.5 94.1h0.7" stroke="#246c7c" stroke-width="0.7" fill="none"/>
<path d="M170.4 61.4h0.9M188.3 220.5h0.9M100.0 113.6h0.9M49.6 136.3h0.9M142.3 75.5h0.9" stroke="#326c52" stroke-width="0.9" fill="none"/>
<path d="M192.1 27.4h0.9M166.3 190.1h0.9M134.9 118.1h0.9M183.0 205.3h0.9M163.3 227.1h0.9" stroke="#246c7c" stroke-width="0.9" fill="none"/>
<path d="M46.9 49.9h0.9M175.6 171.7h0.9M127.4 32.1h0.9M100.7 223.9h0.9M122.3 64.8h0.9M143.7 144.6h0.9" stroke="#17506c" stroke-width="0.9" fill="none"/>
<path d="M92.5 57.2h0.9M199.1 51.5h0.9M154.4 108.8h0.9M125.7 175.6h0.9M138.9 158.5h0.9M52.9 236.2h0.9" stroke="#1c5e60" stroke-width="0.9" fill="none"/>
<path d="M186.0 62.9h0.9M112.9 34.8h0.9M180.3 162.3h0.9M48.6 120.0h0.9M85.6 120.4h0.9M83.4 140.0h0.9M92.5 107.2h0.9" stroke="#1b6290" stroke-width="0.9" fill="none"/>
<path d="M83.6 78.1h0.7M146.8 90.3h0.7" stroke="#326c52" stroke-width="0.7" fill="none"/>
<path d="M60.6 210.4h0.7M187.7 110.6h0.7M57.5 109.7h0.7M119.6 109.3h0.7M115.3 112.8h0.7" stroke="#1c5e60" stroke-width="0.7" fill="none"/>
<path d="M54.4 84.7h0.7M111.1 43.5h0.7M143.6 213.2h0.7M182.4 213.6h0.7" stroke="#1b6290" stroke-width="0.7" fill="none"/>
<path d="M44.4 132.1h0.7" stroke="#50b4b8" stroke-width="0.7" fill="none"/>
<path d="M147.1 200.3h0.8" stroke="#4a98a8" stroke-width="0.8" fill="none"/>
<path d="M87.3 40.4h0.7" stroke="#68a88c" stroke-width="0.7" fill="none"/>
<path d="M120.2 88.3h0.8" stroke="#50b4b8" stroke-width="0.8" fill="none"/>
<path d="M125.9 32.6h0.7" stroke="#4a98a8" stroke-width="0.7" fill="none"/>
<path d="M148.0 173.3h0.7M49.3 143.8h0.7" stroke="#a0a464" stroke-width="0.7" fill="none"/>
<path d="M189.4 201.8h0.8" stroke="#78a8b8" stroke-width="0.8" fill="none"/>
<path d="M138.6 94.0h1.1M137.4 200.9h1.1M157.8 173.6h1.1M113.3 113.3h1.1M117.3 66.5h1.1M123.2 139.9h1.1M118.0 40.5h1.1M130.0 226.5h1.1M130.4 174.7h1.1M179.8 85.5h1.1M76.9 213.8h1.1M160.9 70.3h1.1M153.4 151.2h1.1M166.3 171.8h1.1M151.8 45.3h1.1M94.1 25.3h1.1M143.0 104.6h1.1M146.8 149.0h1.1M113.5 236.9h1.1M45.5 27.3h1.1M139.5 57.6h1.1M135.8 131.3h1.1M130.6 240.8h1.1M87.9 47.0h1.1M105.9 57.6h1.1M116.0 146.0h1.1M89.9 74.2h1.1M121.5 114.0h1.1M108.6 40.4h1.1M115.9 165.4h1.1M156.8 126.4h1.1M118.3 105.7h1.1M159.8 35.9h1.1M146.0 164.0h1.1M110.2 144.0h1.1M125.0 124.2h1.1M135.8 34.7h1.1M124.7 61.5h1.1M140.1 41.9h1.1M147.8 208.1h1.1M155.9 202.2h1.1M105.6 72.0h1.1M166.7 65.8h1.1M78.8 104.2h1.1M119.9 157.6h1.1M122.7 200.0h1.1M153.3 151.9h1.1M157.2 31.7h1.1M150.9 28.7h1.1M162.4 169.8h1.1M133.8 193.5h1.1M168.8 143.0h1.1M91.9 66.3h1.1M123.7 189.2h1.1M127.8 129.3h1.1M161.8 153.5h1.1M132.1 185.1h1.1" stroke="#0a2b3c" stroke-width="1.1" fill="none"/>
<path d="M138.6 104.1h1.1M147.5 188.5h1.1M121.8 191.2h1.1M153.6 111.2h1.1M160.3 214.6h1.1M116.4 98.2h1.1M109.0 145.3h1.1M72.4 181.2h1.1M124.9 203.1h1.1M127.1 177.7h1.1M114.5 81.9h1.1M158.2 135.2h1.1M124.7 93.8h1.1M145.3 98.9h1.1M138.0 41.7h1.1M152.0 192.9h1.1M115.6 159.0h1.1M71.9 237.9h1.1M93.5 71.5h1.1M109.3 183.3h1.1M171.1 119.0h1.1M65.8 46.2h1.1M186.3 49.0h1.1M131.0 94.1h1.1M102.5 164.7h1.1M156.5 160.2h1.1M148.0 209.7h1.1M121.6 165.6h1.1M119.5 39.6h1.1M93.1 107.9h1.1M176.2 220.4h1.1M192.9 95.3h1.1M45.9 48.5h1.1M131.0 79.4h1.1M169.6 175.3h1.1M151.1 77.0h1.1M144.8 96.8h1.1M68.4 62.8h1.1M163.6 227.5h1.1M140.1 148.7h1.1M115.5 198.5h1.1M114.7 204.9h1.1M147.3 231.6h1.1M113.3 38.3h1.1M87.2 47.7h1.1M171.5 35.6h1.1M179.6 133.8h1.1M103.9 239.9h1.1M164.0 121.2h1.1M169.1 115.6h1.1M119.8 127.1h1.1M146.6 124.3h1.1M97.9 224.6h1.1M150.1 97.4h1.1M166.9 50.7h1.1M107.4 152.0h1.1M56.6 236.2h1.1M162.9 53.7h1.1M170.7 67.1h1.1M103.5 129.9h1.1M173.1 166.4h1.1M110.1 140.5h1.1M177.0 132.8h1.1M93.8 86.7h1.1M102.8 55.6h1.1" stroke="#0c2f4c" stroke-width="1.1" fill="none"/>
<path d="M130.9 89.4h1.1M150.7 180.7h1.1M91.0 160.5h1.1M165.3 102.8h1.1M140.0 70.6h1.1M143.5 193.9h1.1M121.1 126.0h1.1M78.1 67.8h1.1M152.9 145.4h1.1M113.4 236.7h1.1M126.2 221.9h1.1M151.1 201.5h1.1M129.5 53.2h1.1M104.6 77.4h1.1M142.2 141.8h1.1M162.5 33.3h1.1M181.1 109.9h1.1M121.1 172.1h1.1M180.8 171.4h1.1M134.3 93.4h1.1M115.5 122.2h1.1M155.6 186.9h1.1M114.9 221.1h1.1M110.9 29.2h1.1M139.8 61.2h1.1M103.0 90.6h1.1M108.4 163.1h1.1M139.4 141.3h1.1M88.0 80.6h1.1M135.1 227.1h1.1M130.9 40.1h1.1M158.8 233.1h1.1M137.0 81.7h1.1M99.8 197.4h1.1M163.2 120.0h1.1M154.0 99.9h1.1M91.3 37.8h1.1M152.6 63.8h1.1M98.4 33.5h1.1M133.1 108.9h1.1M116.4 130.5h1.1M105.3 123.5h1.1M120.0 209.5h1.1M182.7 25.8h1.1M82.1 147.7h1.1M155.8 103.8h1.1M156.0 178.4h1.1M97.8 62.8h1.1M121.4 112.9h1.1M133.5 51.5h1.1M156.9 214.0h1.1M124.2 135.3h1.1M121.6 226.1h1.1M127.0 43.4h1.1M154.2 141.5h1.1M137.5 121.0h1.1M149.7 177.0h1.1M145.4 32.4h1.1M122.1 125.9h1.1M103.3 140.5h1.1M105.5 207.2h1.1M96.8 222.9h1.1M139.3 40.2h1.1M146.2 212.3h1.1M123.9 24.3h1.1M120.0 51.1h1.1M158.0 46.4h1.1M124.8 112.6h1.1M105.1 118.8h1.1M175.6 187.5h1.1M160.6 34.5h1.1M142.2 226.4h1.1M166.8 48.2h1.1M120.7 177.1h1.1M130.1 110.6h1.1M77.5 118.2h1.1M168.2 153.0h1.1M92.3 179.6h1.1M152.1 106.4h1.1M198.6 228.0h1.1" stroke="#0f3555" stroke-width="1.1" fill="none"/>
<path d="M119.0 139.2h1.1M98.9 92.7h1.1M130.5 126.0h1.1M113.7 182.6h1.1M153.1 218.8h1.1M134.5 191.7h1.1M109.7 154.1h1.1M174.8 155.2h1.1M125.8 76.2h1.1M151.0 229.4h1.1M90.2 207.9h1.1M147.9 210.1h1.1M112.2 30.7h1.1M177.2 117.6h1.1M130.7 43.2h1.1M145.3 103.8h1.1M123.1 189.1h1.1M143.4 185.6h1.1M117.2 224.5h1.1M136.1 232.3h1.1M117.9 104.5h1.1M135.0 39.7h1.1M163.3 28.3h1.1M172.7 98.7h1.1M107.5 44.7h1.1M131.7 150.6h1.1M149.6 209.0h1.1M137.9 95.4h1.1M82.8 169.1h1.1M79.4 38.8h1.1M164.2 219.9h1.1M104.3 209.9h1.1M149.5 238.5h1.1M134.6 179.4h1.1M116.5 183.5h1.1M136.9 196.5h1.1M128.4 190.1h1.1M177.7 152.7h1.1M122.6 90.6h1.1M171.1 44.0h1.1M166.0 178.5h1.1M157.8 30.2h1.1M112.7 177.1h1.1M100.5 143.5h1.1M114.5 212.2h1.1M121.4 116.7h1.1M101.1 41.6h1.1M138.7 110.3h1.1M142.3 83.1h1.1M146.3 41.3h1.1M127.4 234.6h1.1M162.4 202.7h1.1M128.8 132.7h1.1M150.8 189.3h1.1M115.2 201.8h1.1M123.7 69.8h1.1M83.9 177.7h1.1M77.7 171.3h1.1M104.5 168.1h1.1M111.6 207.4h1.1M108.2 135.6h1.1M140.9 192.0h1.1M123.0 139.6h1.1M165.3 143.4h1.1M199.7 157.1h1.1M170.3 25.5h1.1M80.5 114.4h1.1M184.2 198.8h1.1M140.7 28.6h1.1M135.1 24.1h1.1M166.3 232.8h1.1M100.3 48.6h1.1M160.9 137.3h1.1M120.5 106.4h1.1" stroke="#0a2545" stroke-width="1.1" fill="none"/>
<path d="M123.1 176.6h0.9M127.4 90.9h0.9M110.3 44.2h0.9M142.9 131.9h0.9M185.8 126.8h0.9M108.9 210.7h0.9M169.4 33.1h0.9M92.6 200.7h0.9M127.9 180.9h0.9M148.7 119.2h0.9M104.1 152.1h0.9M180.8 57.0h0.9M62.7 115.9h0.9M153.4 156.6h0.9M184.6 27.3h0.9M76.8 97.3h0.9M82.5 234.1h0.9M171.3 141.5h0.9M124.6 231.6h0.9M163.0 174.9h0.9M103.1 78.7h0.9M119.2 152.7h0.9M149.3 228.3h0.9M191.8 31.3h0.9M95.3 185.7h0.9M107.9 85.9h0.9M116.4 44.4h0.9M107.3 75.3h0.9M122.4 36.2h0.9M156.9 46.2h0.9M155.0 71.8h0.9M96.5 46.8h0.9M129.1 74.5h0.9M167.3 86.2h0.9M127.7 100.7h0.9M140.1 80.6h0.9M121.3 149.6h0.9M181.3 129.2h0.9M160.3 167.6h0.9M131.4 106.6h0.9M142.0 131.6h0.9M120.5 51.7h0.9M151.1 197.8h0.9M124.3 65.4h0.9M137.7 167.4h0.9M46.0 141.5h0.9M71.2 63.9h0.9M128.5 189.8h0.9M107.5 237.8h0.9M188.9 60.3h0.9M133.7 157.0h0.9M130.0 233.8h0.9M174.6 198.5h0.9M142.1 186.4h0.9M99.9 166.3h0.9M123.1 181.2h0.9M123.1 75.7h0.9M109.4 33.4h0.9M99.0 61.6h0.9M112.4 197.1h0.9M162.5 71.4h0.9M146.3 94.5h0.9M101.6 234.2h0.9M147.2 201.9h0.9M157.9 137.2h0.9M131.9 239.7h0.9M158.5 39.0h0.9M126.4 138.6h0.9M120.0 45.8h0.9M97.4 215.8h0.9M134.4 239.9h0.9M165.9 77.7h0.9" stroke="#0f3555" stroke-width="0.9" fill="none"/>
<path d="M80.6 237.9h0.9M118.0 53.1h0.9M174.2 85.4h0.9M144.9 115.9h0.9M61.5 48.9h0.9M126.4 172.4h0.9M109.4 130.8h0.9M151.8 115.0h0.9M72.9 152.6h0.9M120.0 47.4h0.9M133.5 80.3h0.9M135.5 217.9h0.9M148.1 196.2h0.9M105.8 61.5h0.9M138.4 209.1h0.9M110.8 177.5h0.9M131.0 51.2h0.9M143.6 118.0h0.9M83.9 211.4h0.9M88.6 81.8h0.9M115.6 240.4h0.9M132.9 113.3h0.9M145.0 201.7h0.9M156.9 68.0h0.9M100.7 73.6h0.9M125.5 184.9h0.9M104.4 222.4h0.9M143.0 93.8h0.9M152.2 42.0h0.9M108.5 50.4h0.9M146.6 93.3h0.9M114.1 202.0h0.9M93.1 71.9h0.9M114.4 42.7h0.9M120.1 222.2h0.9M143.4 102.4h0.9M151.3 189.3h0.9M80.9 66.8h0.9M106.4 165.6h0.9M165.4 32.7h0.9M93.0 166.2h0.9M137.8 231.5h0.9M198.3 191.5h0.9M106.5 239.1h0.9M96.0 26.2h0.9M139.0 61.1h0.9M123.4 140.8h0.9M91.0 47.6h0.9M137.6 102.2h0.9M141.7 220.2h0.9M139.8 184.1h0.9M124.1 127.1h0.9M139.5 39.1h0.9M72.3 153.4h0.9M121.7 220.3h0.9M163.7 232.0h0.9M130.9 130.6h0.9M132.9 162.6h0.9M119.2 190.7h0.9M143.3 68.5h0.9M66.0 176.7h0.9M76.5 61.9h0.9M117.2 51.8h0.9M94.4 43.1h0.9M149.8 130.4h0.9M113.3 119.9h0.9M153.3 78.7h0.9M126.5 237.8h0.9" stroke="#0a2b3c" stroke-width="0.9" fill="none"/>
<path d="M105.6 238.1h0.9M127.7 231.5h0.9M153.2 216.4h0.9M144.2 230.9h0.9M148.3 37.1h0.9M152.7 114.5h0.9M176.3 83.8h0.9M181.5 102.5h0.9M156.6 91.5h0.9M132.8 114.3h0.9M144.9 69.1h0.9M150.0 75.4h0.9M121.7 194.7h0.9M125.2 42.2h0.9M107.5 62.4h0.9M144.7 28.9h0.9M147.3 208.6h0.9M103.9 185.9h0.9M145.5 211.4h0.9M62.7 225.9h0.9M150.8 210.3h0.9M97.5 63.4h0.9M162.9 127.7h0.9M101.3 238.2h0.9M102.5 146.7h0.9M121.6 39.8h0.9M146.9 166.1h0.9M193.6 27.2h0.9M111.7 96.1h0.9M84.1 79.0h0.9M93.5 237.7h0.9M104.9 79.2h0.9M126.9 68.9h0.9M94.1 165.5h0.9M177.3 127.0h0.9M137.3 32.9h0.9M124.5 89.8h0.9M131.0 240.4h0.9M101.5 32.4h0.9M138.7 190.9h0.9M104.3 65.5h0.9M131.8 80.2h0.9M108.9 213.5h0.9M153.6 224.9h0.9M152.8 205.1h0.9M150.6 24.8h0.9M146.2 187.0h0.9M114.2 210.6h0.9M131.1 205.0h0.9M132.0 26.4h0.9M130.9 94.7h0.9M130.0 23.7h0.9M97.2 157.9h0.9M130.0 208.2h0.9M176.4 85.5h0.9M149.7 98.6h0.9M91.1 212.1h0.9M160.3 166.4h0.9M120.8 114.4h0.9M170.3 137.7h0.9M148.4 178.7h0.9M84.7 157.6h0.9M155.1 225.6h0.9M123.9 214.4h0.9M107.6 206.6h0.9M117.0 199.2h0.9M88.1 92.4h0.9" stroke="#0a2545" stroke-width="0.9" fill="none"/>
<path d="M105.5 68.6h0.9M92.8 195.6h0.9M153.9 129.0h0.9M168.1 166.1h0.9M144.0 88.1h0.9M123.7 194.9h0.9M142.9 43.0h0.9M177.3 37.5h0.9M185.5 134.9h0.9M124.2 146.6h0.9M109.5 146.8h0.9M94.8 112.6h0.9M98.3 119.5h0.9M133.4 156.3h0.9M127.9 43.4h0.9M69.2 239.9h0.9M94.3 136.3h0.9M136.2 176.1h0.9M70.3 42.4h0.9M121.4 164.7h0.9M116.1 92.8h0.9M109.8 45.1h0.9M117.6 146.4h0.9M127.0 131.6h0.9M130.0 27.3h0.9M98.6 32.2h0.9M104.7 67.3h0.9M121.2 156.2h0.9M147.0 145.7h0.9M74.7 38.8h0.9M136.4 175.8h0.9M133.9 165.3h0.9M162.1 205.2h0.9M89.8 90.2h0.9M155.6 172.7h0.9M119.9 83.5h0.9M152.4 39.5h0.9M186.5 211.8h0.9M127.8 69.3h0.9M111.9 92.6h0.9M175.1 142.5h0.9M90.9 209.4h0.9M159.2 236.1h0.9M176.1 70.1h0.9M189.3 37.3h0.9M114.9 57.3h0.9M127.6 174.0h0.9M169.3 238.6h0.9M121.2 103.7h0.9M99.2 75.7h0.9M114.6 31.3h0.9M131.7 101.7h0.9M140.8 140.7h0.9M126.4 90.7h0.9M121.8 236.4h0.9M108.6 126.5h0.9M161.8 218.1h0.9M116.5 148.1h0.9M82.7 194.7h0.9M167.9 180.6h0.9M110.8 217.0h0.9M168.3 176.3h0.9M110.8 213.0h0.9M188.0 193.0h0.9M169.9 57.8h0.9M120.9 177.2h0.9M60.9 230.0h0.9M148.0 114.6h0.9M134.4 179.0h0.9M108.6 45.5h0.9M155.2 124.8h0.9M84.2 36.5h0.9M142.0 50.4h0.9M124.1 45.4h0.9" stroke="#123a60" stroke-width="0.9" fill="none"/>
<path d="M121.3 186.8h0.9M122.8 231.0h0.9M130.8 173.5h0.9M110.1 217.3h0.9M152.5 64.1h0.9M106.5 123.7h0.9M175.5 238.6h0.9M113.5 89.0h0.9M92.0 192.1h0.9M79.5 221.4h0.9M147.9 107.6h0.9M162.4 114.9h0.9M112.9 221.0h0.9M123.4 120.2h0.9M94.2 121.1h0.9M117.6 52.3h0.9M131.5 139.0h0.9M121.2 223.5h0.9M162.5 157.5h0.9M125.4 121.1h0.9M97.7 208.1h0.9M133.2 236.8h0.9M169.8 162.5h0.9M110.3 94.8h0.9M175.9 118.3h0.9M162.9 227.8h0.9M172.6 175.7h0.9M135.1 68.1h0.9M171.9 183.2h0.9M158.4 167.6h0.9M161.2 56.0h0.9M181.1 130.8h0.9M93.0 188.8h0.9M170.3 211.2h0.9M72.9 213.1h0.9M97.3 125.6h0.9M133.0 240.0h0.9M167.9 201.8h0.9M117.8 70.3h0.9M134.8 48.1h0.9M126.9 101.1h0.9M176.4 70.3h0.9M162.1 41.0h0.9M129.7 116.6h0.9M147.5 221.0h0.9M155.2 70.5h0.9M149.8 143.6h0.9M174.2 107.9h0.9M109.4 232.0h0.9M164.6 63.1h0.9M107.9 176.5h0.9M110.3 60.0h0.9M183.8 198.8h0.9M169.4 129.6h0.9M116.8 46.3h0.9M104.5 145.9h0.9M144.1 84.8h0.9M155.5 37.8h0.9M97.4 224.3h0.9M165.6 136.7h0.9M93.6 186.0h0.9M141.8 64.3h0.9M138.9 84.1h0.9M154.9 207.4h0.9M102.4 217.1h0.9M116.9 199.9h0.9M158.2 203.1h0.9M148.7 106.3h0.9M127.0 218.0h0.9M83.7 103.2h0.9M79.5 27.4h0.9M139.0 43.8h0.9M82.8 27.1h0.9" stroke="#0c2f4c" stroke-width="0.9" fill="none"/>
<path d="M177.9 189.8h1.1M143.8 77.7h1.1M145.2 112.7h1.1M192.1 181.8h1.1M127.2 202.3h1.1M105.7 31.8h1.1M165.4 188.6h1.1M144.8 39.9h1.1M110.5 140.7h1.1M104.0 149.6h1.1M153.7 35.6h1.1M133.5 88.7h1.1M158.6 94.9h1.1M163.1 83.1h1.1M183.9 112.9h1.1M96.6 172.6h1.1M146.8 80.8h1.1M96.7 221.3h1.1M151.5 90.5h1.1M110.6 49.9h1.1M124.4 160.1h1.1M86.9 65.9h1.1M134.2 134.1h1.1M141.6 61.5h1.1M144.0 149.0h1.1M191.4 88.6h1.1M145.0 48.8h1.1M142.4 27.5h1.1M113.1 49.1h1.1M94.5 39.7h1.1M145.1 147.0h1.1M112.7 118.1h1.1M133.5 28.2h1.1M110.6 180.1h1.1M108.0 123.5h1.1M93.4 209.4h1.1M148.7 52.2h1.1M173.8 72.0h1.1M146.9 175.8h1.1M137.9 91.0h1.1M124.3 157.4h1.1M100.9 55.0h1.1M122.1 107.4h1.1M200.7 196.0h1.1M175.8 178.2h1.1M132.8 99.2h1.1M127.7 153.7h1.1M149.5 190.4h1.1M160.4 152.3h1.1M149.6 160.8h1.1M105.2 124.8h1.1M80.1 133.9h1.1M137.3 148.1h1.1M128.3 220.1h1.1M138.7 54.7h1.1M132.1 108.4h1.1M138.4 59.0h1.1M141.5 114.1h1.1M134.9 176.8h1.1M151.7 161.7h1.1M137.1 32.2h1.1M148.9 47.7h1.1M140.3 110.2h1.1M94.1 62.3h1.1M97.1 237.2h1.1M143.4 92.1h1.1M119.0 185.7h1.1M127.8 214.0h1.1M166.6 109.2h1.1M63.7 52.9h1.1" stroke="#123a60" stroke-width="1.1" fill="none"/>
<path d="M117.0 186.6h0.8M147.9 127.3h0.8M128.7 136.1h0.8M128.5 49.0h0.8M99.9 113.0h0.8M111.9 193.3h0.8M131.5 137.4h0.8M91.6 77.9h0.8M75.4 215.7h0.8M116.1 172.1h0.8M140.9 46.6h0.8M116.5 127.1h0.8M146.6 136.7h0.8M137.7 207.9h0.8M116.1 189.8h0.8M169.1 169.2h0.8M153.3 44.8h0.8M149.9 80.6h0.8M153.6 44.0h0.8M111.7 173.5h0.8M152.2 90.7h0.8M134.2 191.6h0.8M142.6 166.0h0.8M125.8 176.5h0.8M123.5 90.0h0.8M142.1 159.8h0.8M99.2 114.8h0.8M104.6 90.8h0.8M136.7 103.9h0.8M124.1 104.0h0.8M116.7 132.2h0.8M109.6 199.5h0.8M111.3 117.3h0.8M118.6 99.8h0.8M75.7 83.0h0.8M128.5 81.9h0.8M133.9 195.5h0.8M131.8 71.9h0.8M135.5 176.4h0.8M91.7 196.7h0.8M134.2 126.1h0.8M112.3 109.5h0.8M161.8 46.9h0.8M127.5 185.3h0.8M90.1 112.4h0.8M164.6 208.6h0.8M118.2 52.1h0.8M127.1 240.6h0.8M102.2 123.0h0.8M117.1 96.4h0.8M152.4 206.3h0.8M101.8 179.2h0.8" stroke="#326c52" stroke-width="0.8" fill="none"/>
<path d="M101.2 114.2h1.0M139.8 122.3h1.0M101.1 27.5h1.0M127.7 200.1h1.0M92.6 198.3h1.0M100.7 183.6h1.0M64.7 194.8h1.0M93.8 204.1h1.0M122.6 238.2h1.0M121.4 102.3h1.0M100.2 157.5h1.0M108.4 172.9h1.0M132.4 221.3h1.0M93.0 131.4h1.0M77.4 231.3h1.0M107.7 63.1h1.0M112.4 158.2h1.0M105.1 115.4h1.0M154.4 39.2h1.0M135.4 62.7h1.0M188.9 110.1h1.0M157.5 111.9h1.0M107.7 220.7h1.0M109.1 178.4h1.0M118.7 61.6h1.0M144.1 136.1h1.0M110.9 224.6h1.0M96.1 26.1h1.0M122.4 61.7h1.0M115.1 160.2h1.0M98.7 139.7h1.0M112.9 238.1h1.0M115.2 58.8h1.0M126.1 237.9h1.0M151.4 154.7h1.0M118.8 225.1h1.0M99.9 101.6h1.0M127.0 178.2h1.0M128.1 84.3h1.0M158.1 231.0h1.0M96.8 28.9h1.0M107.7 200.5h1.0M157.6 107.1h1.0M155.2 191.7h1.0M139.6 25.8h1.0M121.6 53.5h1.0M130.3 87.8h1.0M120.4 99.8h1.0M88.3 172.9h1.0M121.9 134.0h1.0M87.2 75.8h1.0M174.2 213.6h1.0M111.2 166.9h1.0M116.2 169.0h1.0M159.4 135.2h1.0M165.9 101.8h1.0M136.8 110.4h1.0M156.1 158.4h1.0M130.4 86.3h1.0M96.4 97.5h1.0M120.6 148.1h1.0M116.8 96.4h1.0M168.3 102.3h1.0M94.8 93.3h1.0M139.0 68.5h1.0" stroke="#1b6290" stroke-width="1.0" fill="none"/>
<path d="M148.6 208.4h1.0M87.4 237.2h1.0M169.8 72.3h1.0M129.4 114.8h1.0M112.5 125.7h1.0M138.5 176.7h1.0M132.2 150.5h1.0M102.9 180.3h1.0M135.0 88.8h1.0M152.5 228.0h1.0M110.6 173.6h1.0M149.2 100.5h1.0M106.1 71.5h1.0M114.6 164.2h1.0M100.8 112.3h1.0M136.3 219.0h1.0M106.7 46.8h1.0M123.1 133.0h1.0M148.9 147.4h1.0M141.6 222.1h1.0M125.7 81.4h1.0M89.6 170.0h1.0M114.5 117.8h1.0M116.2 148.1h1.0M156.2 186.1h1.0M137.3 125.0h1.0M172.1 101.3h1.0M153.3 224.6h1.0M93.3 81.3h1.0M117.6 233.8h1.0M102.1 102.6h1.0M122.5 215.4h1.0M127.2 38.6h1.0M122.2 116.2h1.0M130.6 70.0h1.0M166.5 144.2h1.0M157.5 117.8h1.0M122.0 166.5h1.0M145.9 156.1h1.0M139.1 216.4h1.0M140.0 92.4h1.0M122.0 95.6h1.0M103.9 28.4h1.0M143.8 100.4h1.0M127.0 136.6h1.0M110.8 198.8h1.0M77.6 83.4h1.0M134.6 135.8h1.0M146.7 124.2h1.0M104.6 72.3h1.0M157.2 199.0h1.0M117.1 89.4h1.0M157.1 236.0h1.0M134.0 105.7h1.0M115.8 34.6h1.0M128.7 113.6h1.0M131.2 104.9h1.0M135.1 104.2h1.0M129.5 196.9h1.0M118.9 95.2h1.0M143.3 40.3h1.0M118.4 107.4h1.0M116.2 181.3h1.0" stroke="#1c5e60" stroke-width="1.0" fill="none"/>
<path d="M119.4 164.8h1.0M131.9 101.6h1.0M109.1 24.6h1.0M152.1 150.8h1.0M88.4 36.5h1.0M162.7 189.6h1.0M122.5 150.8h1.0M116.1 220.8h1.0M171.9 37.2h1.0M106.3 56.0h1.0M93.1 237.3h1.0M141.1 42.4h1.0M122.5 117.8h1.0M180.0 105.2h1.0M108.8 165.9h1.0M129.2 44.0h1.0M112.3 141.8h1.0M169.0 168.4h1.0M169.0 60.0h1.0M103.6 224.1h1.0M151.1 202.4h1.0M116.1 116.0h1.0M139.0 89.4h1.0M106.5 49.7h1.0M94.0 142.1h1.0M135.7 125.4h1.0M146.1 91.9h1.0M128.1 45.7h1.0M119.3 105.1h1.0M136.7 94.2h1.0M97.5 53.8h1.0M148.9 107.0h1.0M115.8 132.3h1.0M114.2 225.3h1.0M113.5 218.3h1.0M103.2 54.9h1.0M140.1 116.7h1.0M120.3 110.7h1.0M196.3 125.2h1.0M125.6 180.9h1.0M121.0 104.3h1.0M158.5 52.2h1.0M156.1 86.5h1.0M99.7 195.5h1.0M153.9 135.9h1.0M98.4 164.6h1.0M116.9 138.5h1.0M102.1 91.3h1.0M127.3 79.8h1.0M109.3 120.5h1.0M128.3 97.5h1.0M101.3 29.3h1.0M127.7 207.2h1.0M105.2 235.2h1.0M113.7 81.1h1.0M106.3 154.7h1.0M137.6 221.9h1.0M131.5 99.2h1.0M111.0 163.2h1.0M139.8 210.0h1.0M153.0 144.4h1.0" stroke="#17506c" stroke-width="1.0" fill="none"/>
<path d="M104.7 47.4h0.8M114.8 73.7h0.8M87.3 230.3h0.8M108.4 240.5h0.8M162.8 181.7h0.8M90.9 172.7h0.8M117.0 122.4h0.8M97.0 56.2h0.8M95.4 218.6h0.8M142.3 240.0h0.8M153.6 98.8h0.8M123.4 187.5h0.8M117.8 199.6h0.8M96.5 129.5h0.8M97.2 198.6h0.8M120.5 98.3h0.8M153.5 111.1h0.8M152.5 162.5h0.8M133.3 73.0h0.8M171.6 75.7h0.8M136.3 122.4h0.8M173.4 135.6h0.8M76.9 28.9h0.8M87.7 51.8h0.8M123.4 175.1h0.8M127.8 184.9h0.8M98.5 62.6h0.8M135.0 110.4h0.8M117.8 207.1h0.8M97.0 155.7h0.8M149.2 143.0h0.8M114.1 215.6h0.8M112.3 187.3h0.8M106.0 70.4h0.8M109.7 182.3h0.8M146.7 167.9h0.8M114.9 187.5h0.8M122.3 151.1h0.8M92.0 159.6h0.8M97.5 128.3h0.8M131.2 216.5h0.8M150.0 58.9h0.8M166.0 65.8h0.8M87.3 228.4h0.8M125.9 101.2h0.8M145.2 212.7h0.8M145.0 169.1h0.8M127.1 132.1h0.8M151.5 181.9h0.8M121.8 153.2h0.8M145.5 51.4h0.8M77.2 52.4h0.8M142.3 154.4h0.8M174.7 90.5h0.8M150.0 198.8h0.8M108.2 117.1h0.8" stroke="#1b6290" stroke-width="0.8" fill="none"/>
<path d="M122.4 82.2h1.0M132.1 179.2h1.0M128.5 157.3h1.0M125.6 217.4h1.0M91.2 64.4h1.0M128.4 209.7h1.0M171.5 48.4h1.0M119.5 54.5h1.0M155.0 112.1h1.0M159.1 230.7h1.0M182.7 66.6h1.0M151.6 92.3h1.0M126.2 33.6h1.0M131.7 90.0h1.0M173.8 55.9h1.0M162.6 98.6h1.0M142.0 60.1h1.0M127.5 208.6h1.0M147.4 172.1h1.0M110.6 204.2h1.0M126.1 190.7h1.0M158.4 57.8h1.0M140.0 164.9h1.0M142.9 30.0h1.0M101.0 177.7h1.0M104.3 163.8h1.0M110.1 35.7h1.0M90.8 94.5h1.0M101.1 230.7h1.0M148.9 30.5h1.0M174.4 75.9h1.0M147.5 158.6h1.0M98.0 28.7h1.0M63.0 200.6h1.0M141.7 31.5h1.0M131.3 237.9h1.0M95.0 119.4h1.0M158.1 172.7h1.0M139.7 77.6h1.0M120.7 110.1h1.0M139.6 143.2h1.0M112.4 120.9h1.0M147.7 140.7h1.0M133.7 233.1h1.0M135.9 42.8h1.0M126.3 148.8h1.0M139.5 134.9h1.0M193.8 87.0h1.0M142.1 128.5h1.0" stroke="#326c52" stroke-width="1.0" fill="none"/>
<path d="M122.2 126.6h0.8M145.0 138.3h0.8M96.2 56.3h0.8M137.3 90.8h0.8M126.2 129.6h0.8M129.7 84.5h0.8M170.6 153.1h0.8M111.5 65.8h0.8M156.4 149.5h0.8M117.0 229.7h0.8M173.8 120.8h0.8M129.9 200.5h0.8M143.4 144.4h0.8M153.7 102.8h0.8M127.7 158.9h0.8M127.6 146.3h0.8M103.2 219.7h0.8M135.0 185.7h0.8M154.1 95.1h0.8M108.1 119.8h0.8M103.9 204.0h0.8M137.5 235.1h0.8M131.8 187.3h0.8M108.6 221.3h0.8M87.9 112.7h0.8M155.0 59.8h0.8M136.3 125.1h0.8M148.9 95.2h0.8M144.3 137.5h0.8M139.9 183.8h0.8M164.7 71.4h0.8M131.6 66.7h0.8M129.5 85.9h0.8M132.1 72.6h0.8M141.9 163.9h0.8M140.1 85.3h0.8M134.5 176.4h0.8M134.6 171.5h0.8M112.7 125.7h0.8M78.7 26.6h0.8M138.3 231.5h0.8M142.8 188.1h0.8M120.8 234.5h0.8M108.1 38.9h0.8M111.5 92.7h0.8M130.3 218.0h0.8M133.2 28.0h0.8M112.4 233.7h0.8M172.9 161.0h0.8M162.2 54.7h0.8M129.4 197.2h0.8M153.7 117.1h0.8M134.7 218.9h0.8M89.5 214.6h0.8M125.0 198.8h0.8M111.4 63.7h0.8M112.0 103.2h0.8M104.0 71.2h0.8M155.0 100.5h0.8M84.6 225.4h0.8M120.9 36.5h0.8M155.6 164.0h0.8M109.8 32.0h0.8" stroke="#17506c" stroke-width="0.8" fill="none"/>
<path d="M89.7 216.0h0.8M143.2 236.8h0.8M103.9 182.7h0.8M142.6 163.4h0.8M113.7 110.8h0.8M130.1 153.1h0.8M139.4 158.9h0.8M104.3 128.4h0.8M124.6 30.1h0.8M141.5 68.9h0.8M143.3 111.4h0.8M169.3 73.0h0.8M147.2 203.5h0.8M113.6 105.5h0.8M127.2 226.0h0.8M167.6 118.1h0.8M129.5 234.5h0.8M93.8 30.3h0.8M113.8 74.8h0.8M147.1 222.4h0.8M102.4 35.2h0.8M132.4 161.1h0.8M136.8 224.3h0.8M105.8 83.6h0.8M178.0 59.3h0.8M139.0 45.5h0.8M141.9 105.0h0.8M117.9 125.6h0.8M110.5 160.2h0.8M200.6 70.4h0.8M146.5 28.4h0.8M169.3 164.8h0.8M120.3 156.7h0.8M124.8 60.2h0.8M125.6 224.2h0.8M101.0 42.1h0.8M137.6 171.4h0.8M142.5 138.5h0.8M116.7 163.0h0.8M100.9 148.6h0.8M132.5 190.0h0.8M100.4 189.0h0.8M143.5 26.0h0.8M166.1 234.4h0.8" stroke="#1c5e60" stroke-width="0.8" fill="none"/>
<path d="M126.7 46.7h1.0M130.0 80.6h1.0M147.9 239.5h1.0M90.6 94.1h1.0M130.1 196.3h1.0M99.3 225.6h1.0M140.1 185.3h1.0M123.1 35.0h1.0M116.1 49.0h1.0M108.3 228.0h1.0M105.7 59.3h1.0M108.0 156.0h1.0M114.4 235.1h1.0M114.3 83.8h1.0M122.0 230.2h1.0M146.4 69.9h1.0M158.7 47.1h1.0M121.0 64.0h1.0M122.4 141.4h1.0M105.4 216.9h1.0M116.6 126.4h1.0M133.9 155.7h1.0M127.3 204.5h1.0M135.8 39.7h1.0M165.6 189.1h1.0M104.3 194.5h1.0M118.5 74.2h1.0M111.0 113.0h1.0M97.0 55.5h1.0M92.4 166.2h1.0M113.0 111.0h1.0M135.0 93.7h1.0M143.7 213.9h1.0M135.3 153.1h1.0M146.0 194.4h1.0M150.3 131.2h1.0M162.9 228.2h1.0M154.6 195.5h1.0M151.3 147.5h1.0M119.0 187.8h1.0M136.4 172.0h1.0M149.0 95.0h1.0M139.4 155.9h1.0M109.8 240.7h1.0M156.2 146.3h1.0M156.9 42.2h1.0M150.3 133.8h1.0M126.9 196.9h1.0M94.5 46.5h1.0M129.2 114.6h1.0M160.8 186.6h1.0M157.7 159.6h1.0M129.6 221.4h1.0M137.3 189.4h1.0M95.3 89.5h1.0M129.4 236.7h1.0M148.2 82.4h1.0M104.3 201.1h1.0M141.2 165.9h1.0M135.1 229.6h1.0M124.9 54.2h1.0M82.5 73.7h1.0M79.8 149.1h1.0" stroke="#246c7c" stroke-width="1.0" fill="none"/>
<path d="M108.0 92.3h0.8M161.4 103.0h0.8M88.4 73.3h0.8M83.2 103.1h0.8M139.9 96.3h0.8M121.2 42.4h0.8M185.7 77.6h0.8M89.9 35.5h0.8M81.5 106.0h0.8M167.5 153.1h0.8M144.5 28.4h0.8M144.3 141.7h0.8M144.0 66.2h0.8M91.8 61.3h0.8M126.6 215.1h0.8M114.7 60.5h0.8M155.4 57.2h0.8M99.6 215.6h0.8M130.1 184.9h0.8M105.3 43.7h0.8M138.0 188.4h0.8M121.7 94.5h0.8M146.7 152.9h0.8M127.3 33.2h0.8M126.4 97.5h0.8M140.0 203.6h0.8M110.2 177.4h0.8M150.4 226.1h0.8M141.9 211.5h0.8M124.8 117.8h0.8M161.1 175.3h0.8M91.7 153.3h0.8M104.1 217.3h0.8M129.1 101.0h0.8M151.0 106.8h0.8M96.1 159.3h0.8M109.7 124.4h0.8M155.8 108.9h0.8M148.4 228.8h0.8M156.1 167.6h0.8M152.3 107.1h0.8M111.1 222.3h0.8M118.4 124.6h0.8M156.4 150.1h0.8" stroke="#246c7c" stroke-width="0.8" fill="none"/>
<path d="M144.8 223.6h0.7M104.0 167.8h0.7M133.0 227.0h0.7M174.3 142.9h0.7M151.3 170.1h0.7M135.5 218.0h0.7M131.2 28.9h0.7M133.2 68.3h0.7M125.6 132.5h0.7M104.4 219.5h0.7M120.9 121.3h0.7M131.5 58.8h0.7M114.0 224.8h0.7M148.6 202.3h0.7" stroke="#78a8b8" stroke-width="0.7" fill="none"/>
<path d="M115.8 161.3h0.7M119.3 203.7h0.7M127.7 145.2h0.7M101.3 221.2h0.7M97.6 205.8h0.7M130.1 175.8h0.7M120.3 61.2h0.7M101.7 204.7h0.7M81.7 29.8h0.7" stroke="#50b4b8" stroke-width="0.7" fill="none"/>
<path d="M91.7 189.1h0.8M127.8 238.0h0.8M122.3 180.9h0.8M130.4 24.4h0.8M149.9 217.2h0.8M117.0 214.7h0.8M114.6 139.8h0.8" stroke="#78a8b8" stroke-width="0.8" fill="none"/>
<path d="M133.5 89.4h0.7M134.3 85.0h0.7M184.8 144.0h0.7M133.6 46.1h0.7M122.5 48.3h0.7M151.1 174.6h0.7M124.3 137.0h0.7M122.9 50.1h0.7M121.7 221.9h0.7M150.9 178.4h0.7M91.8 54.4h0.7" stroke="#68a88c" stroke-width="0.7" fill="none"/>
<path d="M126.1 127.6h0.7M95.9 74.3h0.7M107.9 108.8h0.7M149.1 238.3h0.7M107.1 203.1h0.7M149.1 118.1h0.7M127.2 143.4h0.7" stroke="#a0a464" stroke-width="0.7" fill="none"/>
<path d="M117.1 96.5h0.8M171.4 74.4h0.8M112.3 24.2h0.8M115.7 144.8h0.8M152.3 147.0h0.8M138.0 62.2h0.8M120.8 225.4h0.8M124.9 52.0h0.8M113.8 66.1h0.8M117.0 218.4h0.8" stroke="#50b4b8" stroke-width="0.8" fill="none"/>
<path d="M156.3 36.4h0.8M137.1 144.2h0.8M127.6 25.2h0.8M126.3 30.1h0.8M162.7 23.8h0.8M79.4 210.9h0.8M149.6 220.4h0.8" stroke="#a0a464" stroke-width="0.8" fill="none"/>
<path d="M111.1 174.7h0.7M123.5 164.6h0.7M132.6 130.4h0.7M128.9 65.5h0.7M134.3 198.0h0.7M114.0 218.8h0.7M121.2 95.1h0.7M133.1 119.7h0.7" stroke="#4a98a8" stroke-width="0.7" fill="none"/>
<path d="M112.2 197.3h0.8M121.3 78.5h0.8M143.0 29.4h0.8M124.8 150.2h0.8M104.6 96.5h0.8M169.0 27.9h0.8M140.3 152.8h0.8M129.7 82.2h0.8" stroke="#68a88c" stroke-width="0.8" fill="none"/>
<path d="M106.6 171.3h0.8M112.2 200.5h0.8M136.5 76.4h0.8M139.8 167.9h0.8M130.5 88.9h0.8M142.4 77.5h0.8M153.4 130.2h0.8M115.7 184.5h0.8M135.6 153.5h0.8" stroke="#4a98a8" stroke-width="0.8" fill="none"/>
<path d="M195.7 57.0h1.1M168.1 65.8h1.1M193.6 84.2h1.1M195.0 68.1h1.1M175.3 61.6h1.1M189.9 79.1h1.1M183.7 74.3h1.1M181.3 34.3h1.1M163.7 36.2h1.1M194.3 105.5h1.1M177.0 36.1h1.1M172.3 76.9h1.1M175.1 84.0h1.1M192.4 38.8h1.1" stroke="#0c2f4c" stroke-width="1.1" fill="none"/>
<path d="M191.9 78.1h0.9M197.7 51.0h0.9M181.3 65.3h0.9M168.4 27.6h0.9M170.5 91.5h0.9M158.7 119.9h0.9M161.5 123.0h0.9M182.6 84.7h0.9M171.3 112.3h0.9M187.4 118.7h0.9M200.7 45.6h0.9M185.4 45.5h0.9M183.9 70.6h0.9M198.4 40.7h0.9" stroke="#0a2b3c" stroke-width="0.9" fill="none"/>
<path d="M185.1 39.8h0.9M178.0 44.9h0.9M189.8 23.9h0.9M189.4 97.9h0.9M160.9 44.2h0.9M192.0 57.0h0.9M197.4 28.1h0.9M174.3 59.8h0.9M176.0 55.9h0.9M192.6 49.9h0.9M183.6 84.1h0.9M169.4 117.1h0.9" stroke="#0a2545" stroke-width="0.9" fill="none"/>
<path d="M179.8 102.4h1.1M184.7 118.5h1.1M200.8 47.4h1.1M177.8 93.4h1.1M180.6 86.6h1.1M168.4 106.0h1.1M198.1 64.2h1.1M163.4 60.1h1.1M183.9 65.1h1.1M182.8 112.4h1.1M159.8 82.0h1.1M189.7 24.8h1.1M198.2 55.4h1.1M167.3 27.2h1.1M172.7 79.1h1.1M165.2 75.5h1.1M168.2 58.3h1.1M181.6 46.5h1.1M200.1 94.7h1.1M163.0 30.7h1.1" stroke="#0a2b3c" stroke-width="1.1" fill="none"/>
<path d="M192.5 32.1h0.9M169.1 113.6h0.9M200.8 78.7h0.9M181.4 58.6h0.9M165.9 40.7h0.9M188.9 62.6h0.9M198.1 60.1h0.9M185.4 112.0h0.9M191.8 53.1h0.9M169.5 53.2h0.9M199.7 43.1h0.9M189.4 104.0h0.9M180.6 33.6h0.9M177.7 65.1h0.9M186.3 110.0h0.9M186.5 114.2h0.9M180.7 84.0h0.9M195.5 118.5h0.9M178.0 61.6h0.9M175.1 78.5h0.9M178.1 38.4h0.9M195.1 26.3h0.9" stroke="#0c2f4c" stroke-width="0.9" fill="none"/>
<path d="M181.6 80.9h1.1M176.7 40.5h1.1M202.4 40.2h1.1M188.1 44.6h1.1M167.6 54.5h1.1M191.3 41.4h1.1M189.9 123.8h1.1M180.7 124.0h1.1M167.0 54.9h1.1M163.8 113.4h1.1M170.7 64.5h1.1M163.8 52.2h1.1" stroke="#0a2545" stroke-width="1.1" fill="none"/>
<path d="M196.7 106.8h1.1M193.5 35.2h1.1M171.8 43.6h1.1M193.6 78.5h1.1M189.0 73.9h1.1M188.1 109.3h1.1M200.1 116.4h1.1M180.2 80.6h1.1M180.3 35.8h1.1M195.9 48.4h1.1M178.4 110.0h1.1M183.1 116.4h1.1M163.1 47.3h1.1M160.5 34.0h1.1" stroke="#123a60" stroke-width="1.1" fill="none"/>
<path d="M201.8 78.5h1.1M187.6 47.7h1.1M189.0 60.7h1.1M161.7 41.6h1.1M199.0 81.3h1.1M177.2 50.8h1.1M199.8 83.4h1.1M181.9 73.4h1.1M185.7 70.7h1.1M197.7 113.5h1.1M193.7 48.3h1.1M173.6 73.0h1.1M161.5 116.3h1.1M167.2 36.0h1.1M175.7 70.0h1.1M198.6 68.7h1.1M161.1 115.0h1.1" stroke="#0f3555" stroke-width="1.1" fill="none"/>
<path d="M167.1 63.5h0.9M162.0 23.8h0.9M177.0 120.7h0.9M194.6 49.7h0.9M202.4 108.7h0.9M172.4 53.7h0.9M192.9 120.6h0.9M171.6 101.0h0.9M184.5 40.2h0.9M189.8 75.7h0.9M165.5 62.1h0.9M173.4 43.8h0.9M173.2 43.4h0.9M169.1 62.6h0.9M165.2 100.3h0.9M160.4 56.3h0.9M183.6 82.7h0.9M183.7 86.2h0.9M168.0 93.5h0.9M184.9 93.4h0.9M177.6 120.6h0.9M188.1 61.0h0.9" stroke="#0f3555" stroke-width="0.9" fill="none"/>
<path d="M201.1 93.6h0.9M174.4 92.1h0.9M161.5 82.8h0.9M183.3 78.3h0.9M166.9 117.1h0.9M162.0 26.4h0.9M165.4 57.0h0.9M165.9 116.5h0.9M195.8 61.2h0.9M188.3 111.6h0.9M197.8 26.9h0.9M202.3 66.6h0.9M159.3 120.1h0.9" stroke="#123a60" stroke-width="0.9" fill="none"/>
<path d="M195.9 114.1h0.7M172.1 85.8h0.7M168.0 31.7h0.7M192.3 114.6h0.7M161.0 27.5h0.7M189.6 42.3h0.7M194.5 41.7h0.7M173.3 102.7h0.7M168.5 47.8h0.7M179.5 28.1h0.7" stroke="#17506c" stroke-width="0.7" fill="none"/>
<path d="M198.4 25.2h0.9M160.4 38.2h0.9M182.1 27.4h0.9M164.0 96.3h0.9M190.2 57.5h0.9M187.7 72.0h0.9M161.5 70.8h0.9M198.6 89.9h0.9" stroke="#326c52" stroke-width="0.9" fill="none"/>
<path d="M200.4 95.4h0.9M178.9 38.2h0.9M185.4 106.5h0.9M163.2 31.3h0.9M170.9 96.8h0.9" stroke="#246c7c" stroke-width="0.9" fill="none"/>
<path d="M191.1 65.7h0.7M188.6 37.2h0.7M165.9 88.6h0.7M162.8 79.5h0.7M189.1 83.9h0.7M164.1 103.0h0.7" stroke="#326c52" stroke-width="0.7" fill="none"/>
<path d="M177.6 113.0h0.7M163.5 26.2h0.7M200.8 43.3h0.7M160.4 76.1h0.7M170.2 113.7h0.7M175.4 47.4h0.7M201.7 76.9h0.7M173.7 39.9h0.7M165.3 58.0h0.7" stroke="#1c5e60" stroke-width="0.7" fill="none"/>
<path d="M161.6 36.0h0.9M199.2 75.3h0.9M169.5 104.7h0.9M197.4 35.2h0.9M168.4 70.1h0.9M174.0 97.3h0.9" stroke="#17506c" stroke-width="0.9" fill="none"/>
<path d="M201.8 66.5h0.9M160.5 93.3h0.9M170.4 76.9h0.9M172.7 72.3h0.9M202.1 63.7h0.9M167.5 40.1h0.9M182.8 30.1h0.9" stroke="#1b6290" stroke-width="0.9" fill="none"/>
<path d="M165.4 67.0h0.9M192.0 81.7h0.9M192.6 107.0h0.9M197.9 95.1h0.9M186.9 108.3h0.9M172.5 56.7h0.9M170.8 35.7h0.9M181.4 69.8h0.9M166.4 42.0h0.9M180.7 62.1h0.9M169.9 107.5h0.9" stroke="#1c5e60" stroke-width="0.9" fill="none"/>
<path d="M165.0 47.8h0.7M180.9 64.9h0.7M192.1 61.2h0.7M185.5 32.0h0.7" stroke="#246c7c" stroke-width="0.7" fill="none"/>
<path d="M179.2 97.7h0.7M186.3 71.1h0.7M169.9 105.7h0.7M183.4 114.9h0.7" stroke="#1b6290" stroke-width="0.7" fill="none"/>
<path d="M38.4 214.9 L39.5 223.3 L40.5 211.6 L41.2 218.2 L42.1 203.5 L43.8 224.1 L45.3 213.3 L47.0 223.3 L48.9 205.7 L51.1 225.0 L52.3 213.3 L53.6 200.7 L55.2 221.7 L56.6 206.6 L58.4 220.8 L59.8 209.9 L60.6 216.6 L61.3 210.7 L62.5 230.9 L63.8 218.2 L64.9 214.9 L67.1 233.4 L68.3 221.7 L69.3 218.2 L70.8 224.1 L72.2 209.9 L74.4 218.2 L76.2 209.0 L78.0 220.8 L79.5 204.9 L80.7 209.9 L81.5 193.7 L82.9 203.5 L84.9 188.6 L86.8 209.2 L88.2 194.3 L89.7 213.3 L91.2 196.0 L92.5 180.5 L93.6 200.0 L95.0 186.0 L96.2 194.0 L97.3 181.0 L98.6 193.0 L99.8 179.0 L101.0 190.0 L102.2 176.0 L104.0 186.0 L105.3 158.3 L107.7 189.9 L109.2 166.0 L110.6 191.8 L112.6 164.6 L113.8 178.7 L115.8 161.7 L117.5 176.8 L119.3 165.0 L120.2 172.0 L121.0 141.0 L122.6 141.5 L123.8 182.6 L125.3 163.0 L126.8 178.0 L128.6 152.9 L130.1 180.6 L131.8 160.0 L133.0 175.0 L134.4 134.0 L135.3 131.9 L136.9 177.7 L138.3 158.0 L139.3 182.0 L140.3 156.8 L141.3 172.0 L142.3 152.4 L143.6 182.6 L145.0 166.0 L146.0 180.0 L146.8 164.6 L147.8 183.0 L148.8 169.5 L150.2 187.5 L151.3 176.0 L152.6 190.0 L153.6 181.0 L154.8 195.0 L156.3 188.0 L157.6 203.0 L158.6 211.4 L160.5 179.8 L162.5 217.9 L165.0 213.6 L166.4 223.4 L167.6 196.6 L169.3 231.0 L171.9 219.0 L172.6 200.6 L173.6 223.4 L175.2 216.8 L177.1 225.5 L179.4 214.7 L181.0 220.2 L183.4 198.9 L184.9 211.4 L186.8 196.1 L188.4 204.8 L189.8 195.0 L191.7 214.7 L193.3 210.3 L195.2 222.3 L197.1 216.8 L198.5 228.8 L199.9 220.2 L201.4 235.4 L203.0 241.9" stroke="#0b76c6" stroke-width="1.2" fill="none" stroke-linejoin="miter" stroke-miterlimit="4"/>
<path d="M120.3 172L120.7 141h2.4L123.8 182zM133.2 175L133.9 132h2.0L136.9 177.7zM128 160l.6-7h.9l.6 12zM141.6 165l.5-12.6h.9l.5 14z" fill="#0b76c6"/>
<line x1="103.2" y1="23.3" x2="103.2" y2="241.8" stroke="#00b400" stroke-width="1.5"/>
<line x1="151.35" y1="23.3" x2="151.35" y2="241.8" stroke="#00b400" stroke-width="1.5"/>
<line x1="38.3" y1="209.5" x2="203.5" y2="209.5" stroke="#bd8062" stroke-width="1.15" stroke-dasharray="3.4 2.2"/>
<line x1="104.5" y1="172.1" x2="151" y2="172.1" stroke="#bd8062" stroke-width="1.15" stroke-dasharray="3.4 2.2"/>
<rect x="39.599999999999994" y="24.5" width="108.4" height="8.1" fill="#fff"/>
<line x1="42.2" y1="28.6" x2="51.8" y2="28.6" stroke="#0072BD" stroke-width="1.2"/>
<text x="53.7" y="31" font-size="8.25" fill="#0072BD" text-anchor="start" font-weight="normal" stroke="#0072BD" stroke-width="0.2">particles counted over z-axis</text>
<rect x="106" y="42.9" width="44.3" height="8.3" fill="#fff"/>
<text x="128.1" y="49.6" font-size="8.1" fill="#0aa00a" text-anchor="middle" font-weight="normal" stroke="#0aa00a" stroke-width="0.25">light volume</text>
<line x1="108" y1="39.3" x2="147" y2="39.3" stroke="#00b400" stroke-width="1.5"/>
<path d="M104.8 39.3l5.8-3.3v6.6zM150.2 39.3l-5.8-3.3v6.6z" fill="#00b400"/>
<rect x="37.6" y="151.9" width="65.15" height="25.2" fill="#fff"/>
<text x="68.6" y="158.7" font-size="8.25" fill="#0072BD" text-anchor="middle" font-weight="normal" stroke="#0072BD" stroke-width="0.2">mean</text>
<text x="68.5" y="166.2" font-size="8.25" fill="#0072BD" text-anchor="middle" font-weight="normal" stroke="#0072BD" stroke-width="0.2">particles counted</text>
<text x="68.5" y="173.7" font-size="8.25" fill="#0072BD" text-anchor="middle" font-weight="normal" stroke="#0072BD" stroke-width="0.2">outside light volume</text>
<rect x="94.1" y="191.7" width="64.6" height="20.9" fill="#fff"/>
<text x="127.1" y="197.4" font-size="8.25" fill="#0072BD" text-anchor="middle" font-weight="normal" stroke="#0072BD" stroke-width="0.2">mean</text>
<text x="127.1" y="204.3" font-size="8.25" fill="#0072BD" text-anchor="middle" font-weight="normal" stroke="#0072BD" stroke-width="0.2">particles counted</text>
<text x="127.1" y="211.5" font-size="8.25" fill="#0072BD" text-anchor="middle" font-weight="normal" stroke="#0072BD" stroke-width="0.2">inside light volume</text>
<line x1="45.3" y1="23.3" x2="45.3" y2="21.5" stroke="#888" stroke-width="0.5"/>
<line x1="45.3" y1="241.8" x2="45.3" y2="244.20000000000002" stroke="#aab" stroke-width="0.5"/>
<text x="47.2" y="20.7" font-size="9" fill="#000" text-anchor="middle" font-weight="normal" stroke="#000" stroke-width="0.18">400</text>
<line x1="67.7" y1="23.3" x2="67.7" y2="21.5" stroke="#888" stroke-width="0.5"/>
<line x1="67.7" y1="241.8" x2="67.7" y2="244.20000000000002" stroke="#aab" stroke-width="0.5"/>
<text x="70.1" y="20.7" font-size="9" fill="#000" text-anchor="middle" font-weight="normal" stroke="#000" stroke-width="0.18">600</text>
<line x1="90.0" y1="23.3" x2="90.0" y2="21.5" stroke="#888" stroke-width="0.5"/>
<line x1="90.0" y1="241.8" x2="90.0" y2="244.20000000000002" stroke="#aab" stroke-width="0.5"/>
<text x="90.1" y="20.7" font-size="9" fill="#000" text-anchor="middle" font-weight="normal" stroke="#000" stroke-width="0.18">800</text>
<line x1="112.3" y1="23.3" x2="112.3" y2="21.5" stroke="#888" stroke-width="0.5"/>
<line x1="112.3" y1="241.8" x2="112.3" y2="244.20000000000002" stroke="#aab" stroke-width="0.5"/>
<text x="111.9" y="20.7" font-size="9" fill="#000" text-anchor="middle" font-weight="normal" stroke="#000" stroke-width="0.18">1000</text>
<line x1="134.7" y1="23.3" x2="134.7" y2="21.5" stroke="#888" stroke-width="0.5"/>
<line x1="134.7" y1="241.8" x2="134.7" y2="244.20000000000002" stroke="#aab" stroke-width="0.5"/>
<text x="133.2" y="20.7" font-size="9" fill="#000" text-anchor="middle" font-weight="normal" stroke="#000" stroke-width="0.18">1200</text>
<line x1="157.1" y1="23.3" x2="157.1" y2="21.5" stroke="#888" stroke-width="0.5"/>
<line x1="157.1" y1="241.8" x2="157.1" y2="244.20000000000002" stroke="#aab" stroke-width="0.5"/>
<text x="157.0" y="20.7" font-size="9" fill="#000" text-anchor="middle" font-weight="normal" stroke="#000" stroke-width="0.18">1400</text>
<line x1="179.4" y1="23.3" x2="179.4" y2="21.5" stroke="#888" stroke-width="0.5"/>
<line x1="179.4" y1="241.8" x2="179.4" y2="244.20000000000002" stroke="#aab" stroke-width="0.5"/>
<text x="179.0" y="20.7" font-size="9" fill="#000" text-anchor="middle" font-weight="normal" stroke="#000" stroke-width="0.18">1600</text>
<line x1="201.8" y1="23.3" x2="201.8" y2="21.5" stroke="#888" stroke-width="0.5"/>
<line x1="201.8" y1="241.8" x2="201.8" y2="244.20000000000002" stroke="#aab" stroke-width="0.5"/>
<text x="200.5" y="20.7" font-size="9" fill="#000" text-anchor="middle" font-weight="normal" stroke="#000" stroke-width="0.18">1800</text>
<line x1="38.3" y1="39.5" x2="36.3" y2="39.5" stroke="#888" stroke-width="0.5"/>
<text x="34.6" y="42.5" font-size="9" fill="#000" text-anchor="end" font-weight="normal" stroke="#000" stroke-width="0.18">800</text>
<line x1="38.3" y1="62.7" x2="36.3" y2="62.7" stroke="#888" stroke-width="0.5"/>
<text x="34.6" y="65.7" font-size="9" fill="#000" text-anchor="end" font-weight="normal" stroke="#000" stroke-width="0.18">1000</text>
<line x1="38.3" y1="86.0" x2="36.3" y2="86.0" stroke="#888" stroke-width="0.5"/>
<text x="34.6" y="89.0" font-size="9" fill="#000" text-anchor="end" font-weight="normal" stroke="#000" stroke-width="0.18">1200</text>
<line x1="38.3" y1="109.3" x2="36.3" y2="109.3" stroke="#888" stroke-width="0.5"/>
<text x="34.6" y="112.3" font-size="9" fill="#000" text-anchor="end" font-weight="normal" stroke="#000" stroke-width="0.18">1400</text>
<line x1="38.3" y1="132.6" x2="36.3" y2="132.6" stroke="#888" stroke-width="0.5"/>
<text x="34.6" y="135.6" font-size="9" fill="#000" text-anchor="end" font-weight="normal" stroke="#000" stroke-width="0.18">1600</text>
<line x1="38.3" y1="155.9" x2="36.3" y2="155.9" stroke="#888" stroke-width="0.5"/>
<text x="34.6" y="158.9" font-size="9" fill="#000" text-anchor="end" font-weight="normal" stroke="#000" stroke-width="0.18">1800</text>
<line x1="38.3" y1="179.1" x2="36.3" y2="179.1" stroke="#888" stroke-width="0.5"/>
<text x="34.6" y="182.1" font-size="9" fill="#000" text-anchor="end" font-weight="normal" stroke="#000" stroke-width="0.18">2000</text>
<line x1="38.3" y1="202.4" x2="36.3" y2="202.4" stroke="#888" stroke-width="0.5"/>
<text x="34.6" y="205.4" font-size="9" fill="#000" text-anchor="end" font-weight="normal" stroke="#000" stroke-width="0.18">2200</text>
<line x1="38.3" y1="225.7" x2="36.3" y2="225.7" stroke="#888" stroke-width="0.5"/>
<text x="34.6" y="228.7" font-size="9" fill="#000" text-anchor="end" font-weight="normal" stroke="#000" stroke-width="0.18">2400</text>
<line x1="203.5" y1="223.3" x2="205.7" y2="223.3" stroke="#6aa5d6" stroke-width="0.5"/>
<text x="206.3" y="226.3" font-size="9" fill="#0072BD" text-anchor="start" font-weight="normal" stroke="#0072BD" stroke-width="0.18">5</text>
<line x1="203.5" y1="201.0" x2="205.7" y2="201.0" stroke="#6aa5d6" stroke-width="0.5"/>
<text x="206.3" y="204.0" font-size="9" fill="#0072BD" text-anchor="start" font-weight="normal" stroke="#0072BD" stroke-width="0.18">10</text>
<line x1="203.5" y1="178.7" x2="205.7" y2="178.7" stroke="#6aa5d6" stroke-width="0.5"/>
<text x="206.3" y="181.7" font-size="9" fill="#0072BD" text-anchor="start" font-weight="normal" stroke="#0072BD" stroke-width="0.18">15</text>
<line x1="203.5" y1="156.4" x2="205.7" y2="156.4" stroke="#6aa5d6" stroke-width="0.5"/>
<text x="206.3" y="159.4" font-size="9" fill="#0072BD" text-anchor="start" font-weight="normal" stroke="#0072BD" stroke-width="0.18">20</text>
<line x1="203.5" y1="134.1" x2="205.7" y2="134.1" stroke="#6aa5d6" stroke-width="0.5"/>
<text x="206.3" y="137.1" font-size="9" fill="#0072BD" text-anchor="start" font-weight="normal" stroke="#0072BD" stroke-width="0.18">25</text>
<line x1="203.5" y1="111.8" x2="205.7" y2="111.8" stroke="#6aa5d6" stroke-width="0.5"/>
<text x="206.3" y="114.8" font-size="9" fill="#0072BD" text-anchor="start" font-weight="normal" stroke="#0072BD" stroke-width="0.18">30</text>
<line x1="203.5" y1="89.5" x2="205.7" y2="89.5" stroke="#6aa5d6" stroke-width="0.5"/>
<text x="206.3" y="92.5" font-size="9" fill="#0072BD" text-anchor="start" font-weight="normal" stroke="#0072BD" stroke-width="0.18">35</text>
<line x1="203.5" y1="67.2" x2="205.7" y2="67.2" stroke="#6aa5d6" stroke-width="0.5"/>
<text x="206.3" y="70.2" font-size="9" fill="#0072BD" text-anchor="start" font-weight="normal" stroke="#0072BD" stroke-width="0.18">40</text>
<line x1="203.5" y1="44.9" x2="205.7" y2="44.9" stroke="#6aa5d6" stroke-width="0.5"/>
<text x="206.3" y="47.9" font-size="9" fill="#0072BD" text-anchor="start" font-weight="normal" stroke="#0072BD" stroke-width="0.18">45</text>
<line x1="203.5" y1="22.6" x2="205.7" y2="22.6" stroke="#6aa5d6" stroke-width="0.5"/>
<text x="206.3" y="25.6" font-size="9" fill="#0072BD" text-anchor="start" font-weight="normal" stroke="#0072BD" stroke-width="0.18">50</text>
<text x="133.7" y="9" font-size="10.6" fill="#000" text-anchor="middle" font-weight="bold" >z-axis /pix</text>
<text transform="translate(15.8 123.0) rotate(-89.85) scale(1.02 1.13)" font-size="10.6" font-weight="bold" text-anchor="middle" fill="#000" stroke="#000" stroke-width="0.3">x-axis /pix</text>
<text transform="translate(220.7 123.4) rotate(89.85) scale(1 1.07)" font-size="10.6" font-weight="bold" text-anchor="middle" fill="#0072BD" stroke="#0072BD" stroke-width="0.3">particles counted</text>
<path d="M274.6 92.8 L286.7 129.3 L298.7 145.6 L310.8 154.1 L322.9 160.0 L334.9 163.6 L347.0 166.2 L359.1 168.1 L371.2 169.5 L383.2 170.8 L395.3 171.8 L407.4 172.1 L419.4 172.6 L431.5 172.9 L443.6 173.2 L455.6 173.5 L467.7 173.8 L479.8 174.0 L491.9 174.1 L503.9 174.3 L516.0 174.5 L528.1 174.5 L540.1 174.6 L552.2 174.7 L564.3 174.8 L576.3 174.8 L588.4 174.9 L600.5 174.9" stroke="#0072BD" stroke-width="0.7" fill="none" stroke-linejoin="round"/>
<path d="M273.2 58.9 L274.6 92.8 L286.7 136.8 L298.7 153.4 L310.8 162.9 L322.9 167.2 L334.9 170.1 L347.0 171.8 L359.1 172.7 L371.2 173.4 L383.2 173.9 L395.3 174.3 L407.4 174.5 L419.4 174.8 L431.5 174.9 L443.6 175.0 L455.6 175.1 L467.7 175.2 L479.8 175.2 L491.9 175.2 L503.9 175.3 L516.0 175.3 L528.1 175.3 L540.1 175.4 L552.2 175.4 L564.3 175.4 L576.3 175.4 L588.4 175.5 L600.5 175.5" stroke="#D95319" stroke-width="0.7" fill="none" stroke-linejoin="round"/>
<path d="M274.6 175.7 L286.7 95.5 L298.7 91.2 L310.8 96.3 L322.9 103.0 L334.9 114.0 L347.0 121.2 L359.1 130.3 L371.2 135.2 L383.2 143.4 L395.3 148.9 L407.4 150.2 L419.4 153.3 L431.5 155.8 L443.6 158.7 L455.6 159.0 L467.7 162.9 L479.8 164.3 L491.9 165.6 L503.9 166.2 L516.0 167.5 L528.1 168.1 L540.1 169.5 L552.2 170.1 L564.3 171.1 L576.3 171.4 L588.4 171.8 L600.5 172.7" stroke="#33dd33" stroke-width="0.8" fill="none" stroke-linejoin="round"/>
<path d="M250.5 58.9H599.8" stroke="#000" stroke-width="1.1" fill="none"/>
<path d="M250.5 58.5V176.2M599.8 58.5V176.2M250.0 175.7H600.3" stroke="#111" stroke-width="1" fill="none"/>
<line x1="294.7" y1="175.7" x2="294.7" y2="173.1" stroke="#777" stroke-width="0.5"/>
<line x1="294.7" y1="58.9" x2="294.7" y2="61.5" stroke="#777" stroke-width="0.5"/>
<line x1="338.4" y1="175.7" x2="338.4" y2="173.1" stroke="#777" stroke-width="0.5"/>
<line x1="338.4" y1="58.9" x2="338.4" y2="61.5" stroke="#777" stroke-width="0.5"/>
<line x1="382.1" y1="175.7" x2="382.1" y2="173.1" stroke="#777" stroke-width="0.5"/>
<line x1="382.1" y1="58.9" x2="382.1" y2="61.5" stroke="#777" stroke-width="0.5"/>
<line x1="425.7" y1="175.7" x2="425.7" y2="173.1" stroke="#777" stroke-width="0.5"/>
<line x1="425.7" y1="58.9" x2="425.7" y2="61.5" stroke="#777" stroke-width="0.5"/>
<line x1="469.4" y1="175.7" x2="469.4" y2="173.1" stroke="#777" stroke-width="0.5"/>
<line x1="469.4" y1="58.9" x2="469.4" y2="61.5" stroke="#777" stroke-width="0.5"/>
<line x1="513.1" y1="175.7" x2="513.1" y2="173.1" stroke="#777" stroke-width="0.5"/>
<line x1="513.1" y1="58.9" x2="513.1" y2="61.5" stroke="#777" stroke-width="0.5"/>
<line x1="556.8" y1="175.7" x2="556.8" y2="173.1" stroke="#777" stroke-width="0.5"/>
<line x1="556.8" y1="58.9" x2="556.8" y2="61.5" stroke="#777" stroke-width="0.5"/>
<line x1="250.5" y1="136.8" x2="253.1" y2="136.8" stroke="#777" stroke-width="0.5"/>
<line x1="599.8" y1="136.8" x2="597.1999999999999" y2="136.8" stroke="#777" stroke-width="0.5"/>
<line x1="250.5" y1="97.8" x2="253.1" y2="97.8" stroke="#777" stroke-width="0.5"/>
<line x1="599.8" y1="97.8" x2="597.1999999999999" y2="97.8" stroke="#777" stroke-width="0.5"/>
<rect x="272.1" y="90.3" width="4.9" height="4.9" fill="none" stroke="#0072BD" stroke-width="0.6"/>
<rect x="284.2" y="126.8" width="4.9" height="4.9" fill="none" stroke="#0072BD" stroke-width="0.6"/>
<rect x="296.3" y="143.2" width="4.9" height="4.9" fill="none" stroke="#0072BD" stroke-width="0.6"/>
<rect x="308.4" y="151.7" width="4.9" height="4.9" fill="none" stroke="#0072BD" stroke-width="0.6"/>
<rect x="320.4" y="157.5" width="4.9" height="4.9" fill="none" stroke="#0072BD" stroke-width="0.6"/>
<rect x="332.5" y="161.2" width="4.9" height="4.9" fill="none" stroke="#0072BD" stroke-width="0.6"/>
<rect x="344.6" y="163.7" width="4.9" height="4.9" fill="none" stroke="#0072BD" stroke-width="0.6"/>
<rect x="356.6" y="165.7" width="4.9" height="4.9" fill="none" stroke="#0072BD" stroke-width="0.6"/>
<rect x="368.7" y="167.0" width="4.9" height="4.9" fill="none" stroke="#0072BD" stroke-width="0.6"/>
<rect x="380.8" y="168.3" width="4.9" height="4.9" fill="none" stroke="#0072BD" stroke-width="0.6"/>
<rect x="392.8" y="169.4" width="4.9" height="4.9" fill="none" stroke="#0072BD" stroke-width="0.6"/>
<rect x="404.9" y="169.7" width="4.9" height="4.9" fill="none" stroke="#0072BD" stroke-width="0.6"/>
<rect x="417.0" y="170.1" width="4.9" height="4.9" fill="none" stroke="#0072BD" stroke-width="0.6"/>
<rect x="429.1" y="170.4" width="4.9" height="4.9" fill="none" stroke="#0072BD" stroke-width="0.6"/>
<rect x="441.1" y="170.8" width="4.9" height="4.9" fill="none" stroke="#0072BD" stroke-width="0.6"/>
<rect x="453.2" y="171.1" width="4.9" height="4.9" fill="none" stroke="#0072BD" stroke-width="0.6"/>
<rect x="465.3" y="171.3" width="4.9" height="4.9" fill="none" stroke="#0072BD" stroke-width="0.6"/>
<rect x="477.3" y="171.5" width="4.9" height="4.9" fill="none" stroke="#0072BD" stroke-width="0.6"/>
<rect x="489.4" y="171.7" width="4.9" height="4.9" fill="none" stroke="#0072BD" stroke-width="0.6"/>
<rect x="501.5" y="171.8" width="4.9" height="4.9" fill="none" stroke="#0072BD" stroke-width="0.6"/>
<rect x="513.5" y="172.0" width="4.9" height="4.9" fill="none" stroke="#0072BD" stroke-width="0.6"/>
<rect x="525.6" y="172.1" width="4.9" height="4.9" fill="none" stroke="#0072BD" stroke-width="0.6"/>
<rect x="537.7" y="172.2" width="4.9" height="4.9" fill="none" stroke="#0072BD" stroke-width="0.6"/>
<rect x="549.8" y="172.2" width="4.9" height="4.9" fill="none" stroke="#0072BD" stroke-width="0.6"/>
<rect x="561.8" y="172.3" width="4.9" height="4.9" fill="none" stroke="#0072BD" stroke-width="0.6"/>
<rect x="573.9" y="172.4" width="4.9" height="4.9" fill="none" stroke="#0072BD" stroke-width="0.6"/>
<rect x="586.0" y="172.5" width="4.9" height="4.9" fill="none" stroke="#0072BD" stroke-width="0.6"/>
<rect x="598.0" y="172.5" width="4.9" height="4.9" fill="none" stroke="#0072BD" stroke-width="0.6"/>
<circle cx="274.6" cy="92.8" r="3.3" fill="none" stroke="#D95319" stroke-width="0.6"/>
<circle cx="286.7" cy="136.8" r="3.3" fill="none" stroke="#D95319" stroke-width="0.6"/>
<circle cx="298.7" cy="153.4" r="3.3" fill="none" stroke="#D95319" stroke-width="0.6"/>
<circle cx="310.8" cy="162.9" r="3.3" fill="none" stroke="#D95319" stroke-width="0.6"/>
<circle cx="322.9" cy="167.2" r="3.3" fill="none" stroke="#D95319" stroke-width="0.6"/>
<circle cx="334.9" cy="170.1" r="3.3" fill="none" stroke="#D95319" stroke-width="0.6"/>
<circle cx="347.0" cy="171.8" r="3.3" fill="none" stroke="#D95319" stroke-width="0.6"/>
<circle cx="359.1" cy="172.7" r="3.3" fill="none" stroke="#D95319" stroke-width="0.6"/>
<circle cx="371.2" cy="173.4" r="3.3" fill="none" stroke="#D95319" stroke-width="0.6"/>
<circle cx="383.2" cy="173.9" r="3.3" fill="none" stroke="#D95319" stroke-width="0.6"/>
<circle cx="395.3" cy="174.3" r="3.3" fill="none" stroke="#D95319" stroke-width="0.6"/>
<circle cx="407.4" cy="174.5" r="3.3" fill="none" stroke="#D95319" stroke-width="0.6"/>
<circle cx="419.4" cy="174.8" r="3.3" fill="none" stroke="#D95319" stroke-width="0.6"/>
<circle cx="431.5" cy="174.9" r="3.3" fill="none" stroke="#D95319" stroke-width="0.6"/>
<circle cx="443.6" cy="175.0" r="3.3" fill="none" stroke="#D95319" stroke-width="0.6"/>
<circle cx="455.6" cy="175.1" r="3.3" fill="none" stroke="#D95319" stroke-width="0.6"/>
<circle cx="467.7" cy="175.2" r="3.3" fill="none" stroke="#D95319" stroke-width="0.6"/>
<circle cx="479.8" cy="175.2" r="3.3" fill="none" stroke="#D95319" stroke-width="0.6"/>
<circle cx="491.9" cy="175.2" r="3.3" fill="none" stroke="#D95319" stroke-width="0.6"/>
<circle cx="503.9" cy="175.3" r="3.3" fill="none" stroke="#D95319" stroke-width="0.6"/>
<circle cx="516.0" cy="175.3" r="3.3" fill="none" stroke="#D95319" stroke-width="0.6"/>
<circle cx="528.1" cy="175.3" r="3.3" fill="none" stroke="#D95319" stroke-width="0.6"/>
<circle cx="540.1" cy="175.4" r="3.3" fill="none" stroke="#D95319" stroke-width="0.6"/>
<circle cx="552.2" cy="175.4" r="3.3" fill="none" stroke="#D95319" stroke-width="0.6"/>
<circle cx="564.3" cy="175.4" r="3.3" fill="none" stroke="#D95319" stroke-width="0.6"/>
<circle cx="576.3" cy="175.4" r="3.3" fill="none" stroke="#D95319" stroke-width="0.6"/>
<circle cx="588.4" cy="175.5" r="3.3" fill="none" stroke="#D95319" stroke-width="0.6"/>
<circle cx="600.5" cy="175.5" r="3.3" fill="none" stroke="#D95319" stroke-width="0.6"/>
<path d="M283.6 95.5h6.2M286.7 92.4v6.2M295.6 91.2h6.2M298.7 88.1v6.2M307.7 96.3h6.2M310.8 93.2v6.2M319.8 103.0h6.2M322.9 99.9v6.2M331.8 114.0h6.2M334.9 110.9v6.2M343.9 121.2h6.2M347.0 118.1v6.2M356.0 130.3h6.2M359.1 127.2v6.2M368.1 135.2h6.2M371.2 132.1v6.2M380.1 143.4h6.2M383.2 140.3v6.2M392.2 148.9h6.2M395.3 145.8v6.2M404.3 150.2h6.2M407.4 147.1v6.2M416.3 153.3h6.2M419.4 150.2v6.2M428.4 155.8h6.2M431.5 152.7v6.2M440.5 158.7h6.2M443.6 155.6v6.2M452.5 159.0h6.2M455.6 155.9v6.2M464.6 162.9h6.2M467.7 159.8v6.2M476.7 164.3h6.2M479.8 161.2v6.2M488.8 165.6h6.2M491.9 162.5v6.2M500.8 166.2h6.2M503.9 163.1v6.2M512.9 167.5h6.2M516.0 164.4v6.2M525.0 168.1h6.2M528.1 165.0v6.2M537.0 169.5h6.2M540.1 166.4v6.2M549.1 170.1h6.2M552.2 167.0v6.2M561.2 171.1h6.2M564.3 168.0v6.2M573.2 171.4h6.2M576.3 168.3v6.2M585.3 171.8h6.2M588.4 168.7v6.2M597.4 172.7h6.2M600.5 169.6v6.2" stroke="#33dd33" stroke-width="0.7" fill="none"/>
<text x="250.5" y="187" font-size="10.4" fill="#000" text-anchor="middle" font-weight="normal" stroke="#000" stroke-width="0.18">0</text>
<text x="295.0" y="187" font-size="10.4" fill="#000" text-anchor="middle" font-weight="normal" stroke="#000" stroke-width="0.18">50</text>
<text x="339.5" y="187" font-size="10.4" fill="#000" text-anchor="middle" font-weight="normal" stroke="#000" stroke-width="0.18">100</text>
<text x="383.4" y="187" font-size="10.4" fill="#000" text-anchor="middle" font-weight="normal" stroke="#000" stroke-width="0.18">150</text>
<text x="427.0" y="187" font-size="10.4" fill="#000" text-anchor="middle" font-weight="normal" stroke="#000" stroke-width="0.18">200</text>
<text x="470.0" y="187" font-size="10.4" fill="#000" text-anchor="middle" font-weight="normal" stroke="#000" stroke-width="0.18">250</text>
<text x="513.9" y="187" font-size="10.4" fill="#000" text-anchor="middle" font-weight="normal" stroke="#000" stroke-width="0.18">300</text>
<text x="557.7" y="187" font-size="10.4" fill="#000" text-anchor="middle" font-weight="normal" stroke="#000" stroke-width="0.18">350</text>
<text x="601.5" y="187" font-size="10.4" fill="#000" text-anchor="middle" font-weight="normal" stroke="#000" stroke-width="0.18">400</text>
<text x="248.3" y="179.1" font-size="10.4" fill="#000" text-anchor="end" font-weight="normal" stroke="#000" stroke-width="0.18">0</text>
<text x="248.3" y="140.2" font-size="10.4" fill="#000" text-anchor="end" font-weight="normal" stroke="#000" stroke-width="0.18">0.05</text>
<text x="248.3" y="101.2" font-size="10.4" fill="#000" text-anchor="end" font-weight="normal" stroke="#000" stroke-width="0.18">0.1</text>
<text x="248.3" y="62.3" font-size="10.4" fill="#000" text-anchor="end" font-weight="normal" stroke="#000" stroke-width="0.18">0.15</text>
<text x="428.1" y="198.6" font-size="10.6" fill="#000" text-anchor="middle" font-weight="bold" >Ipeak /-</text>
<text transform="translate(241.2 114.9) rotate(-89.85) scale(1 1.08)" font-size="10.6" font-weight="bold" text-anchor="middle" fill="#000" stroke="#000" stroke-width="0.25">pdf</text>
<rect x="458.9" y="67.0" width="136.1" height="30.3" fill="#fff" stroke="#222" stroke-width="0.8"/>
<line x1="459.8" y1="73.10" x2="468.8" y2="73.10" stroke="#0072BD" stroke-width="0.7"/>
<rect x="461.4" y="70.60" width="5.6" height="5.0" fill="none" stroke="#0072BD" stroke-width="0.6"/>
<text x="468.7" y="76.10" font-size="8.5" fill="#000" text-anchor="start" font-weight="normal" stroke="#000" stroke-width="0.15">Intensity values inside light volume</text>
<line x1="459.8" y1="82.65" x2="468.8" y2="82.65" stroke="#D95319" stroke-width="0.7"/>
<circle cx="464.2" cy="82.65" r="3.3" fill="none" stroke="#D95319" stroke-width="0.6"/>
<text x="468.7" y="85.65" font-size="8.5" fill="#000" text-anchor="start" font-weight="normal" stroke="#000" stroke-width="0.15">Intensity values outside light volume</text>
<line x1="459.8" y1="92.20" x2="468.8" y2="92.20" stroke="#33dd33" stroke-width="0.7"/>
<path d="M464.2 88.90v6.6" stroke="#33dd33" stroke-width="0.7"/>
<text x="468.7" y="95.20" font-size="8.5" fill="#000" text-anchor="start" font-weight="normal" stroke="#000" stroke-width="0.15">Intensity values real particles</text>
</svg></body></html>
